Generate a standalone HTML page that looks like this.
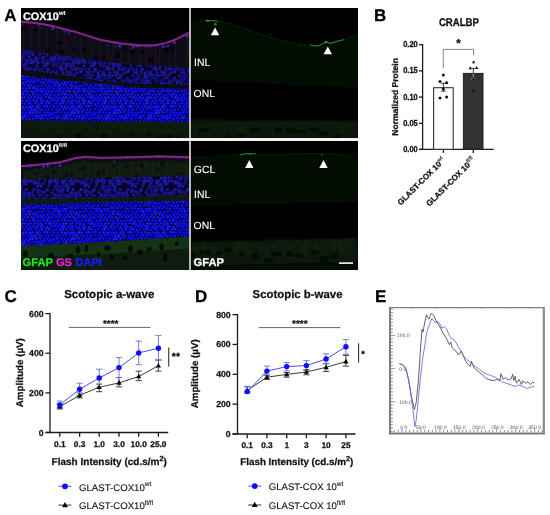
<!DOCTYPE html><html><head><meta charset="utf-8"><title>Figure</title><style>html,body{margin:0;padding:0;background:#fff;}svg text{font-family:"Liberation Sans",Arial,sans-serif;text-rendering:geometricPrecision;}body{width:550px;height:515px;position:relative;overflow:hidden;}</style></head><body><svg width="550" height="515" viewBox="0 0 550 515" style="position:absolute;left:0;top:0"><g filter="url(#glob)"><rect x="0" y="0" width="550" height="515" fill="#fff"/><defs><pattern id="onl" width="42" height="42" patternUnits="userSpaceOnUse"><rect width="42" height="42" fill="#00002c"/><circle cx="-0.35" cy="1.65" r="1.37" fill="#0c0cff"/><circle cx="41.65" cy="1.65" r="1.37" fill="#0c0cff"/><circle cx="3.06" cy="1.51" r="1.36" fill="#0808f8"/><circle cx="6.74" cy="1.55" r="1.37" fill="#0c0cff"/><circle cx="10.63" cy="1.58" r="1.37" fill="#0808f8"/><circle cx="13.72" cy="1.56" r="1.39" fill="#0808f8"/><circle cx="17.12" cy="1.31" r="1.59" fill="#1a1af0"/><circle cx="17.12" cy="43.31" r="1.59" fill="#1a1af0"/><circle cx="21.07" cy="1.19" r="1.38" fill="#0c0cff"/><circle cx="21.07" cy="43.19" r="1.38" fill="#0c0cff"/><circle cx="24.62" cy="1.5" r="1.51" fill="#1010e4"/><circle cx="24.62" cy="43.5" r="1.51" fill="#1010e4"/><circle cx="28.42" cy="1.36" r="1.42" fill="#1a1af0"/><circle cx="28.42" cy="43.36" r="1.42" fill="#1a1af0"/><circle cx="31.24" cy="1.57" r="1.51" fill="#1010e4"/><circle cx="34.79" cy="1.98" r="1.39" fill="#0808f8"/><circle cx="38.34" cy="1.93" r="1.48" fill="#0c0cff"/><circle cx="1.82" cy="4.88" r="1.44" fill="#1010e4"/><circle cx="5.33" cy="4.46" r="1.6" fill="#1010e4"/><circle cx="8.91" cy="4.06" r="1.56" fill="#0808f8"/><circle cx="12.14" cy="4.67" r="1.36" fill="#0808f8"/><circle cx="15.86" cy="4.49" r="1.42" fill="#1010e4"/><circle cx="19" cy="4.39" r="1.61" fill="#0c0cff"/><circle cx="22.65" cy="4.28" r="1.39" fill="#0808f8"/><circle cx="26.03" cy="4.42" r="1.46" fill="#0808f8"/><circle cx="29.4" cy="4.18" r="1.42" fill="#1a1af0"/><circle cx="33.58" cy="4.18" r="1.43" fill="#1a1af0"/><circle cx="36.62" cy="4.57" r="1.64" fill="#0c0cff"/><circle cx="40.62" cy="4.95" r="1.55" fill="#0808f8"/><circle cx="-1.38" cy="4.95" r="1.55" fill="#0808f8"/><circle cx="-0.11" cy="7.48" r="1.47" fill="#1a1af0"/><circle cx="41.89" cy="7.48" r="1.47" fill="#1a1af0"/><circle cx="3.21" cy="7.16" r="1.45" fill="#0c0cff"/><circle cx="7.07" cy="7.54" r="1.63" fill="#0c0cff"/><circle cx="10.21" cy="7.38" r="1.54" fill="#1010e4"/><circle cx="13.97" cy="7.12" r="1.5" fill="#0808f8"/><circle cx="17.31" cy="7.14" r="1.57" fill="#1010e4"/><circle cx="21.19" cy="7.52" r="1.41" fill="#1010e4"/><circle cx="24.54" cy="7.03" r="1.51" fill="#0c0cff"/><circle cx="27.76" cy="7.37" r="1.4" fill="#1a1af0"/><circle cx="31.78" cy="7.33" r="1.42" fill="#1a1af0"/><circle cx="35.32" cy="7.74" r="1.42" fill="#0808f8"/><circle cx="38.03" cy="7.03" r="1.43" fill="#1010e4"/><circle cx="1.86" cy="10.34" r="1.59" fill="#1010e4"/><circle cx="5.11" cy="10.22" r="1.42" fill="#1a1af0"/><circle cx="8.73" cy="10.99" r="1.53" fill="#0c0cff"/><circle cx="12.4" cy="10.8" r="1.38" fill="#0c0cff"/><circle cx="16.03" cy="10.75" r="1.49" fill="#1a1af0"/><circle cx="19.39" cy="10.09" r="1.63" fill="#0808f8"/><circle cx="22.99" cy="10.08" r="1.4" fill="#1a1af0"/><circle cx="26.34" cy="10.47" r="1.55" fill="#0808f8"/><circle cx="29.6" cy="10.55" r="1.39" fill="#0c0cff"/><circle cx="33.48" cy="10.1" r="1.57" fill="#1a1af0"/><circle cx="37.12" cy="10.83" r="1.41" fill="#1010e4"/><circle cx="40.25" cy="10.76" r="1.45" fill="#0808f8"/><circle cx="-0.44" cy="13.74" r="1.62" fill="#0808f8"/><circle cx="41.56" cy="13.74" r="1.62" fill="#0808f8"/><circle cx="3.88" cy="13.13" r="1.4" fill="#0c0cff"/><circle cx="7.28" cy="13.61" r="1.58" fill="#1a1af0"/><circle cx="10.47" cy="13.73" r="1.52" fill="#1010e4"/><circle cx="14.03" cy="13.48" r="1.58" fill="#0c0cff"/><circle cx="17.28" cy="13.77" r="1.5" fill="#0c0cff"/><circle cx="21.41" cy="13.44" r="1.53" fill="#1a1af0"/><circle cx="24.45" cy="13.53" r="1.49" fill="#1a1af0"/><circle cx="28.38" cy="13.94" r="1.43" fill="#1a1af0"/><circle cx="31.14" cy="13.12" r="1.48" fill="#0c0cff"/><circle cx="34.93" cy="13.21" r="1.44" fill="#0c0cff"/><circle cx="38.15" cy="13.72" r="1.55" fill="#1a1af0"/><circle cx="1.39" cy="16.47" r="1.57" fill="#0c0cff"/><circle cx="43.39" cy="16.47" r="1.57" fill="#0c0cff"/><circle cx="5.24" cy="16.99" r="1.6" fill="#1a1af0"/><circle cx="9.24" cy="16.4" r="1.48" fill="#1010e4"/><circle cx="12.47" cy="16.02" r="1.52" fill="#0808f8"/><circle cx="15.63" cy="16.52" r="1.44" fill="#0c0cff"/><circle cx="19.67" cy="16.23" r="1.61" fill="#0c0cff"/><circle cx="22.29" cy="16.78" r="1.43" fill="#1a1af0"/><circle cx="26.6" cy="16.68" r="1.63" fill="#0808f8"/><circle cx="30.17" cy="16.57" r="1.56" fill="#0c0cff"/><circle cx="33.55" cy="16.18" r="1.62" fill="#1010e4"/><circle cx="36.88" cy="16.8" r="1.38" fill="#1a1af0"/><circle cx="40.61" cy="16.45" r="1.45" fill="#0808f8"/><circle cx="-1.39" cy="16.45" r="1.45" fill="#0808f8"/><circle cx="-0.23" cy="19.13" r="1.51" fill="#1a1af0"/><circle cx="41.77" cy="19.13" r="1.51" fill="#1a1af0"/><circle cx="3.97" cy="19.26" r="1.4" fill="#1010e4"/><circle cx="7.03" cy="19.21" r="1.48" fill="#1a1af0"/><circle cx="10.8" cy="19.99" r="1.36" fill="#0c0cff"/><circle cx="14.05" cy="19.19" r="1.49" fill="#0808f8"/><circle cx="17.82" cy="19.43" r="1.5" fill="#0808f8"/><circle cx="20.81" cy="19.22" r="1.42" fill="#1a1af0"/><circle cx="24.71" cy="19.64" r="1.47" fill="#1010e4"/><circle cx="28.34" cy="19.01" r="1.54" fill="#1010e4"/><circle cx="31.06" cy="19.67" r="1.46" fill="#1010e4"/><circle cx="35.19" cy="19.05" r="1.41" fill="#1010e4"/><circle cx="38.26" cy="19.96" r="1.64" fill="#1010e4"/><circle cx="2.22" cy="22.31" r="1.46" fill="#0c0cff"/><circle cx="4.83" cy="22.28" r="1.55" fill="#1a1af0"/><circle cx="8.25" cy="22.26" r="1.38" fill="#0808f8"/><circle cx="12.14" cy="22.3" r="1.54" fill="#0c0cff"/><circle cx="15.78" cy="22.75" r="1.55" fill="#0808f8"/><circle cx="19.47" cy="22.49" r="1.44" fill="#1a1af0"/><circle cx="23.09" cy="22.89" r="1.54" fill="#1a1af0"/><circle cx="26.5" cy="22.57" r="1.59" fill="#0c0cff"/><circle cx="29.83" cy="22.89" r="1.55" fill="#1a1af0"/><circle cx="32.79" cy="22.64" r="1.64" fill="#0808f8"/><circle cx="36.81" cy="22.63" r="1.54" fill="#1a1af0"/><circle cx="39.75" cy="22.8" r="1.57" fill="#0c0cff"/><circle cx="-0.43" cy="25.74" r="1.43" fill="#0c0cff"/><circle cx="41.57" cy="25.74" r="1.43" fill="#0c0cff"/><circle cx="3.23" cy="25.76" r="1.42" fill="#0808f8"/><circle cx="6.88" cy="25.48" r="1.56" fill="#0c0cff"/><circle cx="10.64" cy="25.08" r="1.39" fill="#1010e4"/><circle cx="14.19" cy="25.62" r="1.39" fill="#0808f8"/><circle cx="17.27" cy="25.67" r="1.56" fill="#0808f8"/><circle cx="21.02" cy="25.46" r="1.49" fill="#0c0cff"/><circle cx="24.55" cy="25.31" r="1.38" fill="#0808f8"/><circle cx="27.96" cy="25.82" r="1.64" fill="#0808f8"/><circle cx="31.39" cy="25.92" r="1.63" fill="#0c0cff"/><circle cx="34.64" cy="25.52" r="1.64" fill="#1a1af0"/><circle cx="38.63" cy="25.28" r="1.38" fill="#1010e4"/><circle cx="2.15" cy="28.49" r="1.36" fill="#0c0cff"/><circle cx="5.43" cy="28.41" r="1.57" fill="#0808f8"/><circle cx="8.57" cy="28.84" r="1.35" fill="#1010e4"/><circle cx="11.87" cy="28.93" r="1.56" fill="#1010e4"/><circle cx="15.31" cy="28.39" r="1.61" fill="#0c0cff"/><circle cx="19.18" cy="28.28" r="1.36" fill="#0c0cff"/><circle cx="22.91" cy="28.63" r="1.39" fill="#1010e4"/><circle cx="26.07" cy="28.77" r="1.59" fill="#0808f8"/><circle cx="30.06" cy="28.63" r="1.62" fill="#1a1af0"/><circle cx="32.8" cy="28.73" r="1.49" fill="#1a1af0"/><circle cx="36.54" cy="28.05" r="1.63" fill="#1a1af0"/><circle cx="40.16" cy="28.28" r="1.43" fill="#1010e4"/><circle cx="-0.26" cy="31.48" r="1.55" fill="#0c0cff"/><circle cx="41.74" cy="31.48" r="1.55" fill="#0c0cff"/><circle cx="3.16" cy="31.21" r="1.62" fill="#0808f8"/><circle cx="6.95" cy="31.33" r="1.58" fill="#0808f8"/><circle cx="10.19" cy="31.09" r="1.45" fill="#0c0cff"/><circle cx="13.87" cy="31.81" r="1.41" fill="#0c0cff"/><circle cx="17.41" cy="31.41" r="1.51" fill="#0808f8"/><circle cx="21.25" cy="31.5" r="1.52" fill="#1010e4"/><circle cx="24.5" cy="31.63" r="1.61" fill="#1a1af0"/><circle cx="28.4" cy="31.38" r="1.54" fill="#0808f8"/><circle cx="31.85" cy="31.87" r="1.36" fill="#0c0cff"/><circle cx="35.26" cy="31.8" r="1.64" fill="#0808f8"/><circle cx="38.39" cy="31.93" r="1.6" fill="#0808f8"/><circle cx="1.5" cy="34.11" r="1.4" fill="#0c0cff"/><circle cx="5.47" cy="34.65" r="1.58" fill="#0808f8"/><circle cx="9.03" cy="34" r="1.39" fill="#0c0cff"/><circle cx="12.05" cy="34.13" r="1.43" fill="#0808f8"/><circle cx="15.36" cy="34.07" r="1.51" fill="#1a1af0"/><circle cx="18.97" cy="34.6" r="1.35" fill="#1010e4"/><circle cx="22.53" cy="34.32" r="1.6" fill="#1a1af0"/><circle cx="25.98" cy="34.25" r="1.64" fill="#1010e4"/><circle cx="29.44" cy="34.88" r="1.54" fill="#0c0cff"/><circle cx="33.42" cy="34.93" r="1.42" fill="#0c0cff"/><circle cx="36.97" cy="34.36" r="1.47" fill="#0c0cff"/><circle cx="40.49" cy="34.5" r="1.41" fill="#1a1af0"/><circle cx="0.32" cy="37.23" r="1.42" fill="#1010e4"/><circle cx="42.32" cy="37.23" r="1.42" fill="#1010e4"/><circle cx="3.62" cy="37.61" r="1.62" fill="#0808f8"/><circle cx="7.17" cy="37.95" r="1.39" fill="#0808f8"/><circle cx="10.02" cy="37.6" r="1.47" fill="#0c0cff"/><circle cx="13.95" cy="37.71" r="1.44" fill="#0c0cff"/><circle cx="17.93" cy="37.33" r="1.41" fill="#0808f8"/><circle cx="21.16" cy="37.38" r="1.46" fill="#1010e4"/><circle cx="24.11" cy="37.08" r="1.37" fill="#0808f8"/><circle cx="27.62" cy="37.96" r="1.41" fill="#1010e4"/><circle cx="31.31" cy="37.8" r="1.38" fill="#0808f8"/><circle cx="35.04" cy="37.45" r="1.45" fill="#0808f8"/><circle cx="38.41" cy="37.81" r="1.58" fill="#0c0cff"/><circle cx="1.71" cy="40.8" r="1.37" fill="#1a1af0"/><circle cx="1.71" cy="-1.2" r="1.37" fill="#1a1af0"/><circle cx="5.65" cy="40.34" r="1.43" fill="#0c0cff"/><circle cx="8.97" cy="40.32" r="1.43" fill="#0c0cff"/><circle cx="12.35" cy="40.81" r="1.63" fill="#0c0cff"/><circle cx="12.35" cy="-1.19" r="1.63" fill="#0c0cff"/><circle cx="15.48" cy="40.48" r="1.64" fill="#0808f8"/><circle cx="15.48" cy="-1.52" r="1.64" fill="#0808f8"/><circle cx="19.66" cy="40.81" r="1.39" fill="#0808f8"/><circle cx="19.66" cy="-1.19" r="1.39" fill="#0808f8"/><circle cx="23.05" cy="40.74" r="1.6" fill="#1a1af0"/><circle cx="23.05" cy="-1.26" r="1.6" fill="#1a1af0"/><circle cx="26.08" cy="40.32" r="1.46" fill="#0c0cff"/><circle cx="29.64" cy="40.16" r="1.47" fill="#0c0cff"/><circle cx="33.29" cy="40.16" r="1.48" fill="#0c0cff"/><circle cx="36.51" cy="40.08" r="1.38" fill="#0808f8"/><circle cx="40.72" cy="40.17" r="1.39" fill="#0808f8"/><circle cx="-1.28" cy="40.17" r="1.39" fill="#0808f8"/></pattern><pattern id="inl" width="47" height="47" patternUnits="userSpaceOnUse"><rect width="47" height="47" fill="#080628"/><circle cx="0.24" cy="1.82" r="1.59" fill="#1a1ab8"/><circle cx="47.24" cy="1.82" r="1.59" fill="#1a1ab8"/><circle cx="6.41" cy="1.14" r="1.35" fill="#101094"/><circle cx="6.41" cy="48.14" r="1.35" fill="#101094"/><circle cx="9.72" cy="1.11" r="1.31" fill="#1616a0"/><circle cx="9.72" cy="48.11" r="1.31" fill="#1616a0"/><circle cx="13.28" cy="2.16" r="1.45" fill="#1616a0"/><circle cx="16.23" cy="1.42" r="1.26" fill="#1a1ab8"/><circle cx="20.59" cy="1.95" r="1.62" fill="#1a1ab8"/><circle cx="26.23" cy="1.61" r="1.58" fill="#1616a0"/><circle cx="34.08" cy="1.4" r="1.35" fill="#1a1ab8"/><circle cx="37.06" cy="1.64" r="1.34" fill="#101094"/><circle cx="39.65" cy="2.17" r="1.27" fill="#1616a0"/><circle cx="4.86" cy="4.58" r="1.28" fill="#1a1ab8"/><circle cx="11.14" cy="3.85" r="1.41" fill="#1616a0"/><circle cx="14.53" cy="3.94" r="1.53" fill="#201898"/><circle cx="21.71" cy="3.78" r="1.55" fill="#101094"/><circle cx="24.5" cy="4.78" r="1.57" fill="#1616a0"/><circle cx="28.4" cy="5.03" r="1.42" fill="#1616a0"/><circle cx="32.34" cy="4.27" r="1.6" fill="#201898"/><circle cx="37.98" cy="3.91" r="1.57" fill="#201898"/><circle cx="42.14" cy="4.23" r="1.45" fill="#1616a0"/><circle cx="44.85" cy="3.95" r="1.28" fill="#201898"/><circle cx="0.43" cy="8" r="1.33" fill="#1616a0"/><circle cx="47.43" cy="8" r="1.33" fill="#1616a0"/><circle cx="7.29" cy="7.08" r="1.49" fill="#201898"/><circle cx="10.37" cy="7.61" r="1.61" fill="#1616a0"/><circle cx="13.59" cy="6.92" r="1.44" fill="#1616a0"/><circle cx="17.4" cy="6.86" r="1.39" fill="#1616a0"/><circle cx="20.46" cy="7.9" r="1.27" fill="#1a1ab8"/><circle cx="23.25" cy="7.19" r="1.43" fill="#101094"/><circle cx="26.59" cy="6.99" r="1.41" fill="#101094"/><circle cx="30.13" cy="6.68" r="1.5" fill="#201898"/><circle cx="33.5" cy="7.51" r="1.58" fill="#1616a0"/><circle cx="39.68" cy="7.15" r="1.4" fill="#201898"/><circle cx="43.86" cy="6.7" r="1.3" fill="#101094"/><circle cx="4.41" cy="10.29" r="1.4" fill="#1616a0"/><circle cx="7.79" cy="10.44" r="1.53" fill="#1a1ab8"/><circle cx="12.42" cy="10.27" r="1.63" fill="#1616a0"/><circle cx="15.42" cy="9.89" r="1.58" fill="#101094"/><circle cx="19.02" cy="9.97" r="1.58" fill="#1616a0"/><circle cx="22.47" cy="10.25" r="1.49" fill="#1616a0"/><circle cx="24.53" cy="9.84" r="1.31" fill="#101094"/><circle cx="29.09" cy="9.82" r="1.56" fill="#1a1ab8"/><circle cx="35.75" cy="10.93" r="1.43" fill="#1a1ab8"/><circle cx="38.66" cy="10.78" r="1.55" fill="#101094"/><circle cx="42.65" cy="10.39" r="1.39" fill="#1a1ab8"/><circle cx="44.87" cy="10.62" r="1.27" fill="#101094"/><circle cx="0.65" cy="13.74" r="1.62" fill="#101094"/><circle cx="47.65" cy="13.74" r="1.62" fill="#101094"/><circle cx="3.7" cy="12.83" r="1.37" fill="#201898"/><circle cx="6.52" cy="12.59" r="1.45" fill="#1a1ab8"/><circle cx="9.38" cy="13.02" r="1.29" fill="#101094"/><circle cx="13.31" cy="12.94" r="1.3" fill="#101094"/><circle cx="16.75" cy="12.71" r="1.62" fill="#1616a0"/><circle cx="20.07" cy="12.61" r="1.31" fill="#101094"/><circle cx="23.17" cy="12.53" r="1.51" fill="#101094"/><circle cx="26.97" cy="13.36" r="1.46" fill="#201898"/><circle cx="30.78" cy="12.58" r="1.46" fill="#201898"/><circle cx="33.09" cy="13.8" r="1.29" fill="#1616a0"/><circle cx="36.51" cy="13.37" r="1.45" fill="#201898"/><circle cx="43.38" cy="12.94" r="1.27" fill="#201898"/><circle cx="0.99" cy="16.64" r="1.55" fill="#201898"/><circle cx="47.99" cy="16.64" r="1.55" fill="#201898"/><circle cx="5.25" cy="15.7" r="1.65" fill="#101094"/><circle cx="7.75" cy="15.93" r="1.55" fill="#101094"/><circle cx="11.42" cy="16.23" r="1.42" fill="#101094"/><circle cx="15.71" cy="16.71" r="1.28" fill="#1a1ab8"/><circle cx="19.03" cy="16.63" r="1.33" fill="#1616a0"/><circle cx="21.58" cy="16.69" r="1.38" fill="#1616a0"/><circle cx="25.67" cy="16.75" r="1.64" fill="#201898"/><circle cx="28.58" cy="15.47" r="1.26" fill="#1616a0"/><circle cx="31.62" cy="15.75" r="1.5" fill="#1a1ab8"/><circle cx="34.79" cy="15.5" r="1.29" fill="#1616a0"/><circle cx="38.11" cy="15.5" r="1.27" fill="#1a1ab8"/><circle cx="42.3" cy="15.55" r="1.49" fill="#101094"/><circle cx="45.96" cy="16.2" r="1.52" fill="#201898"/><circle cx="-1.04" cy="16.2" r="1.52" fill="#201898"/><circle cx="-0.41" cy="18.55" r="1.26" fill="#1a1ab8"/><circle cx="46.59" cy="18.55" r="1.26" fill="#1a1ab8"/><circle cx="6.42" cy="18.53" r="1.29" fill="#1616a0"/><circle cx="9.84" cy="18.76" r="1.39" fill="#101094"/><circle cx="13.79" cy="19.67" r="1.56" fill="#201898"/><circle cx="19.49" cy="18.97" r="1.42" fill="#1a1ab8"/><circle cx="23.79" cy="19.15" r="1.34" fill="#1a1ab8"/><circle cx="26.56" cy="19" r="1.46" fill="#101094"/><circle cx="36.92" cy="19.08" r="1.57" fill="#1616a0"/><circle cx="44.28" cy="19.11" r="1.48" fill="#1616a0"/><circle cx="1.28" cy="22.31" r="1.45" fill="#1a1ab8"/><circle cx="48.28" cy="22.31" r="1.45" fill="#1a1ab8"/><circle cx="12.44" cy="22.12" r="1.29" fill="#101094"/><circle cx="14.97" cy="21.88" r="1.61" fill="#1a1ab8"/><circle cx="18.67" cy="21.85" r="1.37" fill="#201898"/><circle cx="25.01" cy="22.57" r="1.34" fill="#201898"/><circle cx="28.67" cy="22.3" r="1.49" fill="#1a1ab8"/><circle cx="31.65" cy="21.55" r="1.59" fill="#101094"/><circle cx="35.16" cy="22.41" r="1.48" fill="#1616a0"/><circle cx="38.81" cy="22.31" r="1.45" fill="#101094"/><circle cx="42.25" cy="22.51" r="1.31" fill="#1616a0"/><circle cx="0.14" cy="24.76" r="1.34" fill="#1616a0"/><circle cx="47.14" cy="24.76" r="1.34" fill="#1616a0"/><circle cx="3.99" cy="25.66" r="1.32" fill="#1a1ab8"/><circle cx="6.23" cy="24.48" r="1.37" fill="#101094"/><circle cx="9.65" cy="25.16" r="1.29" fill="#1616a0"/><circle cx="16.1" cy="25.46" r="1.42" fill="#1616a0"/><circle cx="20.33" cy="24.92" r="1.31" fill="#201898"/><circle cx="23.14" cy="25.46" r="1.53" fill="#201898"/><circle cx="30.43" cy="25.5" r="1.51" fill="#1616a0"/><circle cx="33.77" cy="24.9" r="1.38" fill="#1a1ab8"/><circle cx="40.15" cy="25.27" r="1.31" fill="#201898"/><circle cx="42.97" cy="25.47" r="1.46" fill="#1616a0"/><circle cx="4.35" cy="28.37" r="1.61" fill="#1a1ab8"/><circle cx="8.45" cy="27.43" r="1.56" fill="#1616a0"/><circle cx="11.19" cy="28.01" r="1.47" fill="#201898"/><circle cx="15.3" cy="28.37" r="1.46" fill="#201898"/><circle cx="18.4" cy="28.59" r="1.32" fill="#1a1ab8"/><circle cx="21.98" cy="28.1" r="1.35" fill="#201898"/><circle cx="24.5" cy="27.79" r="1.42" fill="#101094"/><circle cx="27.99" cy="27.63" r="1.41" fill="#1616a0"/><circle cx="38.14" cy="28.51" r="1.28" fill="#1616a0"/><circle cx="42.05" cy="27.52" r="1.64" fill="#101094"/><circle cx="45.78" cy="28.32" r="1.42" fill="#101094"/><circle cx="-1.22" cy="28.32" r="1.42" fill="#101094"/><circle cx="3.75" cy="30.8" r="1.56" fill="#1616a0"/><circle cx="6.54" cy="30.5" r="1.42" fill="#1616a0"/><circle cx="10.5" cy="31.26" r="1.39" fill="#101094"/><circle cx="13.41" cy="31.02" r="1.28" fill="#101094"/><circle cx="16.51" cy="30.68" r="1.28" fill="#101094"/><circle cx="23.96" cy="31.03" r="1.26" fill="#1a1ab8"/><circle cx="26.26" cy="30.55" r="1.49" fill="#1616a0"/><circle cx="33.5" cy="31.24" r="1.33" fill="#201898"/><circle cx="40.83" cy="31" r="1.56" fill="#101094"/><circle cx="43.91" cy="30.89" r="1.55" fill="#201898"/><circle cx="1.14" cy="33.25" r="1.42" fill="#1616a0"/><circle cx="48.14" cy="33.25" r="1.42" fill="#1616a0"/><circle cx="5.12" cy="33.76" r="1.61" fill="#201898"/><circle cx="7.92" cy="33.92" r="1.54" fill="#1616a0"/><circle cx="15.19" cy="34.01" r="1.59" fill="#101094"/><circle cx="19.16" cy="34.03" r="1.32" fill="#101094"/><circle cx="21.16" cy="33.93" r="1.52" fill="#101094"/><circle cx="28.51" cy="34.14" r="1.31" fill="#1616a0"/><circle cx="32.07" cy="33.56" r="1.59" fill="#101094"/><circle cx="35.64" cy="33.86" r="1.61" fill="#101094"/><circle cx="38.5" cy="33.86" r="1.58" fill="#101094"/><circle cx="41.96" cy="33.55" r="1.64" fill="#101094"/><circle cx="0.41" cy="36.48" r="1.38" fill="#101094"/><circle cx="47.41" cy="36.48" r="1.38" fill="#101094"/><circle cx="4.02" cy="36.14" r="1.65" fill="#201898"/><circle cx="7.25" cy="36.78" r="1.27" fill="#101094"/><circle cx="9.44" cy="37.17" r="1.44" fill="#1a1ab8"/><circle cx="20.31" cy="36.9" r="1.53" fill="#1a1ab8"/><circle cx="23.73" cy="36.66" r="1.56" fill="#1a1ab8"/><circle cx="27.37" cy="36.61" r="1.29" fill="#1a1ab8"/><circle cx="30.67" cy="37.12" r="1.47" fill="#101094"/><circle cx="36.28" cy="36.05" r="1.48" fill="#1a1ab8"/><circle cx="40.32" cy="37.17" r="1.56" fill="#201898"/><circle cx="44.23" cy="36.64" r="1.26" fill="#201898"/><circle cx="2.37" cy="39.88" r="1.31" fill="#201898"/><circle cx="4.45" cy="39.62" r="1.61" fill="#1a1ab8"/><circle cx="7.71" cy="39.89" r="1.64" fill="#1a1ab8"/><circle cx="11.22" cy="39.62" r="1.36" fill="#1616a0"/><circle cx="15.45" cy="40.25" r="1.4" fill="#1616a0"/><circle cx="17.88" cy="39.84" r="1.53" fill="#201898"/><circle cx="22.37" cy="40.24" r="1.27" fill="#1a1ab8"/><circle cx="24.5" cy="39.87" r="1.58" fill="#1a1ab8"/><circle cx="28.27" cy="39.8" r="1.63" fill="#201898"/><circle cx="31.64" cy="40.28" r="1.54" fill="#201898"/><circle cx="34.75" cy="40.07" r="1.4" fill="#1616a0"/><circle cx="38.49" cy="39.5" r="1.56" fill="#101094"/><circle cx="45.03" cy="39.04" r="1.64" fill="#101094"/><circle cx="2.68" cy="42.11" r="1.58" fill="#201898"/><circle cx="9.91" cy="42.42" r="1.56" fill="#1616a0"/><circle cx="16.09" cy="42.26" r="1.42" fill="#1a1ab8"/><circle cx="19.64" cy="43.14" r="1.65" fill="#1616a0"/><circle cx="23.99" cy="43.02" r="1.52" fill="#201898"/><circle cx="26.28" cy="42.67" r="1.57" fill="#1616a0"/><circle cx="34.25" cy="42.33" r="1.27" fill="#201898"/><circle cx="36.52" cy="42.25" r="1.55" fill="#201898"/><circle cx="39.71" cy="43.02" r="1.56" fill="#1616a0"/><circle cx="43.67" cy="42.26" r="1.58" fill="#101094"/><circle cx="1.8" cy="45.1" r="1.33" fill="#1616a0"/><circle cx="8.5" cy="45.33" r="1.56" fill="#1616a0"/><circle cx="12.34" cy="45.52" r="1.6" fill="#101094"/><circle cx="12.34" cy="-1.48" r="1.6" fill="#101094"/><circle cx="15.51" cy="45.05" r="1.49" fill="#101094"/><circle cx="18.61" cy="44.96" r="1.33" fill="#201898"/><circle cx="21.42" cy="46.13" r="1.36" fill="#1a1ab8"/><circle cx="21.42" cy="-0.87" r="1.36" fill="#1a1ab8"/><circle cx="37.96" cy="45.11" r="1.32" fill="#1a1ab8"/><circle cx="41.31" cy="45.35" r="1.53" fill="#201898"/></pattern><pattern id="gcl" width="30" height="30" patternUnits="userSpaceOnUse"><rect width="30" height="30" fill="#0c0810"/><circle cx="4.48" cy="1.67" r="1.27" fill="#2a2aa0"/><circle cx="8.7" cy="2.16" r="1.77" fill="#1e1e78"/><circle cx="17.84" cy="1.62" r="1.34" fill="#1e1e78"/><circle cx="20.51" cy="1.39" r="1.41" fill="#1e1e78"/><circle cx="20.51" cy="31.39" r="1.41" fill="#1e1e78"/><circle cx="7" cy="6.04" r="1.59" fill="#3a2a90"/><circle cx="10" cy="6.13" r="1.76" fill="#1e1e78"/><circle cx="24.24" cy="12.28" r="1.57" fill="#3a2a90"/><circle cx="-0.11" cy="16.07" r="1.76" fill="#2a2aa0"/><circle cx="29.89" cy="16.07" r="1.76" fill="#2a2aa0"/><circle cx="13.5" cy="16.83" r="1.58" fill="#2a2aa0"/><circle cx="17.61" cy="16.24" r="1.47" fill="#2a2aa0"/><circle cx="25.55" cy="16.37" r="1.22" fill="#1e1e78"/><circle cx="5.76" cy="20.61" r="1.39" fill="#3a2a90"/><circle cx="11.67" cy="19.74" r="1.74" fill="#1e1e78"/><circle cx="28.37" cy="21.57" r="1.46" fill="#3a2a90"/><circle cx="8.15" cy="25.17" r="1.23" fill="#1e1e78"/><circle cx="17.42" cy="24.26" r="1.5" fill="#1e1e78"/><circle cx="20.43" cy="25.04" r="1.52" fill="#2a2aa0"/><circle cx="1.96" cy="27.68" r="1.31" fill="#2a2aa0"/><circle cx="10.07" cy="28.33" r="1.7" fill="#1e1e78"/><circle cx="10.07" cy="-1.67" r="1.7" fill="#1e1e78"/><circle cx="22.85" cy="28.46" r="1.58" fill="#2a2aa0"/><circle cx="22.85" cy="-1.54" r="1.58" fill="#2a2aa0"/></pattern><filter id="soft" x="-2%" y="-2%" width="104%" height="104%"><feGaussianBlur stdDeviation="0.45"/></filter><filter id="soft2" x="-2%" y="-2%" width="104%" height="104%"><feGaussianBlur stdDeviation="0.8"/></filter><filter id="glob" x="0" y="0" width="100%" height="100%" filterUnits="userSpaceOnUse"><feGaussianBlur stdDeviation="0.3"/></filter></defs><clipPath id="c1"><rect x="21" y="8" width="168" height="130"/></clipPath><g clip-path="url(#c1)"><rect x="21" y="8" width="168" height="130" fill="#000"/><g filter="url(#soft)"><polygon points="21,21 35,22 50,24.7 75,31 100,39 120,42.5 140,44.5 155,44.5 165,42.5 175,39 189,32 189,140 21,140" fill="#0f0812"/><ellipse cx="22.62" cy="28.61" rx="2.97" ry="2.11" fill="#040304" opacity="0.45"/><ellipse cx="36.77" cy="29.62" rx="3.12" ry="2" fill="#040304" opacity="0.45"/><ellipse cx="47.74" cy="50.18" rx="2.49" ry="1.52" fill="#040304" opacity="0.45"/><ellipse cx="58.28" cy="43.26" rx="3.24" ry="1.9" fill="#040304" opacity="0.45"/><ellipse cx="62.49" cy="51.75" rx="2.23" ry="1.75" fill="#040304" opacity="0.45"/><ellipse cx="73.97" cy="48.85" rx="1.51" ry="2.28" fill="#040304" opacity="0.45"/><ellipse cx="84.57" cy="49.66" rx="1.74" ry="2.57" fill="#040304" opacity="0.45"/><ellipse cx="97.53" cy="58.42" rx="2.14" ry="2.57" fill="#040304" opacity="0.45"/><ellipse cx="104.05" cy="57.5" rx="1.62" ry="2.81" fill="#040304" opacity="0.45"/><ellipse cx="118.63" cy="55.49" rx="2.53" ry="2.3" fill="#040304" opacity="0.45"/><ellipse cx="125.3" cy="49.33" rx="3.43" ry="1.84" fill="#040304" opacity="0.45"/><ellipse cx="132.46" cy="51.23" rx="2" ry="2.73" fill="#040304" opacity="0.45"/><ellipse cx="141.24" cy="51.91" rx="2.9" ry="1.79" fill="#040304" opacity="0.45"/><ellipse cx="151.14" cy="59.6" rx="2.65" ry="2.28" fill="#040304" opacity="0.45"/><ellipse cx="166.62" cy="49.86" rx="3.24" ry="2.58" fill="#040304" opacity="0.45"/><ellipse cx="171.36" cy="48.81" rx="2.49" ry="2.25" fill="#040304" opacity="0.45"/><polygon points="21,21 35,22 50,24.7 75,31 100,39 120,42.5 140,44.5 155,44.5 165,42.5 175,39 189,32 189,37.5 175,44.5 165,48 155,50 140,50 120,48 100,44.5 75,36.5 50,30.2 35,27.5 21,26.5" fill="url(#gcl)"/><line x1="23.68" y1="23.19" x2="23.3" y2="64.67" stroke="#5a1a6a" stroke-width="0.6" opacity="0.45"/><line x1="30.82" y1="23.7" x2="32.27" y2="69.47" stroke="#5a1a6a" stroke-width="0.6" opacity="0.45"/><line x1="38.88" y1="24.7" x2="39.87" y2="70.5" stroke="#5a1a6a" stroke-width="0.6" opacity="0.45"/><line x1="46.99" y1="26.16" x2="48.74" y2="73.71" stroke="#5a1a6a" stroke-width="0.6" opacity="0.45"/><line x1="56.33" y1="28.3" x2="57.69" y2="71.83" stroke="#5a1a6a" stroke-width="0.6" opacity="0.45"/><line x1="65.15" y1="30.52" x2="66.92" y2="72.94" stroke="#5a1a6a" stroke-width="0.6" opacity="0.45"/><line x1="74.66" y1="32.91" x2="73.62" y2="73.91" stroke="#5a1a6a" stroke-width="0.6" opacity="0.45"/><line x1="80.01" y1="34.6" x2="81.94" y2="75.49" stroke="#5a1a6a" stroke-width="0.6" opacity="0.45"/><line x1="90.83" y1="38.06" x2="92.09" y2="80.93" stroke="#5a1a6a" stroke-width="0.6" opacity="0.45"/><line x1="99.09" y1="40.71" x2="99.16" y2="75.29" stroke="#5a1a6a" stroke-width="0.6" opacity="0.45"/><line x1="107.75" y1="42.36" x2="106.74" y2="83.06" stroke="#5a1a6a" stroke-width="0.6" opacity="0.45"/><line x1="112.53" y1="43.19" x2="111.99" y2="81" stroke="#5a1a6a" stroke-width="0.6" opacity="0.45"/><line x1="121.18" y1="44.62" x2="120.92" y2="77.14" stroke="#5a1a6a" stroke-width="0.6" opacity="0.45"/><line x1="129.03" y1="45.4" x2="127.59" y2="77.34" stroke="#5a1a6a" stroke-width="0.6" opacity="0.45"/><line x1="139.82" y1="46.48" x2="141.57" y2="84.2" stroke="#5a1a6a" stroke-width="0.6" opacity="0.45"/><line x1="145.8" y1="46.5" x2="147.34" y2="84.59" stroke="#5a1a6a" stroke-width="0.6" opacity="0.45"/><line x1="155.31" y1="46.44" x2="155.87" y2="78.59" stroke="#5a1a6a" stroke-width="0.6" opacity="0.45"/><line x1="159.59" y1="45.58" x2="158.69" y2="83.83" stroke="#5a1a6a" stroke-width="0.6" opacity="0.45"/><line x1="169.25" y1="43.01" x2="169.74" y2="85.99" stroke="#5a1a6a" stroke-width="0.6" opacity="0.45"/><line x1="175.5" y1="40.75" x2="175.24" y2="82.89" stroke="#5a1a6a" stroke-width="0.6" opacity="0.45"/><line x1="187.71" y1="34.65" x2="186.93" y2="81.27" stroke="#5a1a6a" stroke-width="0.6" opacity="0.45"/><polyline points="21,21.8 35,22.8 50,25.5 75,31.8 100,39.8 120,43.3 140,45.3 155,45.3 165,43.3 175,39.8 189,32.8" fill="none" stroke="#8a2898" stroke-width="2.2" opacity="0.9"/><polygon points="21,49.6 60,55 100,61 140,65 189,68 189,85 140,84 100,81 60,75 21,69.3" fill="url(#inl)"/><polygon points="21,69.3 60,75 100,81 140,84 189,85 189,89 140,88 100,83.7 60,80 21,75.3" fill="#0a0e0a"/><polygon points="21,75.3 60,80 100,83.7 140,88 189,89 189,122 100,121.8 21,120.5" fill="url(#onl)"/><polygon points="21,120.5 100,121.8 189,122 189,140 21,140" fill="#0d1d0d"/><polygon points="21,132.5 100,133.8 189,134 189,140 21,140" fill="#000" opacity="0.35"/><ellipse cx="24.89" cy="127.37" rx="2.69" ry="4.39" fill="#030803" opacity="0.5"/><ellipse cx="33.08" cy="129.73" rx="2.43" ry="3.33" fill="#030803" opacity="0.5"/><ellipse cx="39.89" cy="127.67" rx="1.76" ry="2.73" fill="#030803" opacity="0.5"/><ellipse cx="50.44" cy="130.31" rx="1.99" ry="2.22" fill="#030803" opacity="0.5"/><ellipse cx="60.28" cy="138.74" rx="2.72" ry="3.43" fill="#030803" opacity="0.5"/><ellipse cx="69.9" cy="129.32" rx="2.92" ry="3.15" fill="#030803" opacity="0.5"/><ellipse cx="78.29" cy="135.63" rx="2.44" ry="2.78" fill="#030803" opacity="0.5"/><ellipse cx="85.45" cy="129.88" rx="2.52" ry="2.96" fill="#030803" opacity="0.5"/><ellipse cx="96.51" cy="126.92" rx="2.21" ry="4.15" fill="#030803" opacity="0.5"/><ellipse cx="103.43" cy="135.16" rx="2.48" ry="2.71" fill="#030803" opacity="0.5"/><ellipse cx="116.93" cy="131.27" rx="3.04" ry="2.4" fill="#030803" opacity="0.5"/><ellipse cx="120.4" cy="139.91" rx="2.38" ry="2.16" fill="#030803" opacity="0.5"/><ellipse cx="131.33" cy="133.47" rx="2.97" ry="2.27" fill="#030803" opacity="0.5"/><ellipse cx="139.35" cy="141.28" rx="2.98" ry="2.39" fill="#030803" opacity="0.5"/><ellipse cx="149.02" cy="132.2" rx="2.85" ry="3.54" fill="#030803" opacity="0.5"/><ellipse cx="161.1" cy="139.26" rx="2.54" ry="3.85" fill="#030803" opacity="0.5"/><ellipse cx="169.46" cy="138.35" rx="2.45" ry="3.96" fill="#030803" opacity="0.5"/><ellipse cx="178.25" cy="140.7" rx="1.75" ry="4.18" fill="#030803" opacity="0.5"/></g></g><clipPath id="c2"><rect x="191" y="8" width="167" height="130"/></clipPath><g clip-path="url(#c2)"><rect x="191" y="8" width="167" height="130" fill="#000"/><g filter="url(#soft2)"><polygon points="191,21 205,19.5 222,20.5 240,26 260,33 280,39.5 300,43.5 315,45.2 325,43 340,39.5 358,33.5 358,140 191,140" fill="#040c04"/><polygon points="191,55 358,68 358,79 191,72" fill="#030803"/><polygon points="191,72 358,79 358,88 191,79" fill="#061006"/><polygon points="191,79 358,88 358,121 191,120" fill="#020602"/><polygon points="191,120 358,121 358,140 191,140" fill="#081608"/><line x1="191.01" y1="123.83" x2="191" y2="135.27" stroke="#0f2e0f" stroke-width="1.15" opacity="0.2"/><line x1="195.7" y1="121.42" x2="194.14" y2="133.26" stroke="#184818" stroke-width="1.69" opacity="0.2"/><line x1="197.58" y1="121.8" x2="197.68" y2="130.68" stroke="#0f2e0f" stroke-width="1.38" opacity="0.2"/><line x1="200.64" y1="123.99" x2="200.64" y2="138.34" stroke="#184818" stroke-width="1.3" opacity="0.2"/><line x1="204.07" y1="124.09" x2="203.58" y2="133.89" stroke="#133a13" stroke-width="1.09" opacity="0.2"/><line x1="207.84" y1="121.72" x2="209.19" y2="136" stroke="#184818" stroke-width="1.2" opacity="0.2"/><line x1="209.85" y1="124.67" x2="208.04" y2="129.78" stroke="#0f2e0f" stroke-width="1.9" opacity="0.2"/><line x1="212.6" y1="122.81" x2="213.08" y2="131.25" stroke="#184818" stroke-width="1.52" opacity="0.2"/><line x1="216.03" y1="123.58" x2="215.47" y2="132.86" stroke="#0f2e0f" stroke-width="1.68" opacity="0.2"/><line x1="218.91" y1="120.22" x2="217.82" y2="125.97" stroke="#184818" stroke-width="1.37" opacity="0.2"/><line x1="221.8" y1="122.99" x2="223.32" y2="134.31" stroke="#184818" stroke-width="1.49" opacity="0.2"/><line x1="224.88" y1="123.33" x2="224.25" y2="139.28" stroke="#0f2e0f" stroke-width="1.75" opacity="0.2"/><line x1="227.18" y1="122.03" x2="225.48" y2="131.06" stroke="#184818" stroke-width="1.51" opacity="0.2"/><line x1="230.22" y1="124.71" x2="231.5" y2="137.3" stroke="#0f2e0f" stroke-width="1.89" opacity="0.2"/><line x1="233.84" y1="121.04" x2="233.89" y2="129.23" stroke="#0f2e0f" stroke-width="1.89" opacity="0.2"/><line x1="236.82" y1="120.58" x2="235.25" y2="131.79" stroke="#0f2e0f" stroke-width="1.99" opacity="0.2"/><line x1="240.27" y1="120.51" x2="241.42" y2="130.03" stroke="#184818" stroke-width="1.71" opacity="0.2"/><line x1="243.11" y1="124.9" x2="241.5" y2="134.27" stroke="#133a13" stroke-width="1.67" opacity="0.2"/><line x1="245.39" y1="122.82" x2="244.46" y2="133.9" stroke="#0f2e0f" stroke-width="1.9" opacity="0.2"/><line x1="249.03" y1="121.07" x2="249.44" y2="128.25" stroke="#133a13" stroke-width="1.16" opacity="0.2"/><line x1="252.52" y1="120.9" x2="251.2" y2="127" stroke="#0f2e0f" stroke-width="1.49" opacity="0.2"/><line x1="254.94" y1="122.54" x2="255.54" y2="136.34" stroke="#0f2e0f" stroke-width="1.77" opacity="0.2"/><line x1="257.65" y1="123.98" x2="256.32" y2="132.87" stroke="#184818" stroke-width="1.63" opacity="0.2"/><line x1="261.72" y1="125.16" x2="260.49" y2="130.86" stroke="#0f2e0f" stroke-width="1.39" opacity="0.2"/><line x1="263.11" y1="124.88" x2="264.95" y2="136.29" stroke="#184818" stroke-width="1.05" opacity="0.2"/><line x1="266.48" y1="121.57" x2="266.82" y2="128.32" stroke="#133a13" stroke-width="1.31" opacity="0.2"/><line x1="270.8" y1="124.56" x2="271.21" y2="132.9" stroke="#184818" stroke-width="1.98" opacity="0.2"/><line x1="272.14" y1="123.87" x2="272.47" y2="136.3" stroke="#184818" stroke-width="1.31" opacity="0.2"/><line x1="276.75" y1="122.94" x2="275.72" y2="136.66" stroke="#133a13" stroke-width="1.17" opacity="0.2"/><line x1="278.76" y1="120.56" x2="278.34" y2="135.27" stroke="#184818" stroke-width="1.11" opacity="0.2"/><line x1="282.07" y1="122.47" x2="280.33" y2="131.91" stroke="#133a13" stroke-width="1.42" opacity="0.2"/><line x1="285.83" y1="123.34" x2="285.69" y2="132.6" stroke="#184818" stroke-width="1.24" opacity="0.2"/><line x1="287.07" y1="123.9" x2="285.69" y2="132.65" stroke="#0f2e0f" stroke-width="1.13" opacity="0.2"/><line x1="290.39" y1="123.32" x2="290.61" y2="136.98" stroke="#184818" stroke-width="1.84" opacity="0.2"/><line x1="294.61" y1="121.42" x2="295.5" y2="130.3" stroke="#184818" stroke-width="1.63" opacity="0.2"/><line x1="297.16" y1="122.12" x2="295.98" y2="132.36" stroke="#184818" stroke-width="1.68" opacity="0.2"/><line x1="300.88" y1="125.65" x2="300.65" y2="137.2" stroke="#184818" stroke-width="1.53" opacity="0.2"/><line x1="302.81" y1="123.22" x2="303.81" y2="129.6" stroke="#0f2e0f" stroke-width="1.51" opacity="0.2"/><line x1="306.09" y1="122.04" x2="305.62" y2="135.53" stroke="#0f2e0f" stroke-width="1.72" opacity="0.2"/><line x1="308.29" y1="120.78" x2="309.07" y2="133.6" stroke="#133a13" stroke-width="1.32" opacity="0.2"/><line x1="312.33" y1="121.27" x2="311.77" y2="132.45" stroke="#0f2e0f" stroke-width="1.76" opacity="0.2"/><line x1="314.39" y1="124.33" x2="313.54" y2="130.3" stroke="#0f2e0f" stroke-width="1.4" opacity="0.2"/><line x1="317.71" y1="124.98" x2="318.22" y2="135.09" stroke="#0f2e0f" stroke-width="1.86" opacity="0.2"/><line x1="320.26" y1="122.16" x2="320.98" y2="127.48" stroke="#0f2e0f" stroke-width="1.69" opacity="0.2"/><line x1="324.79" y1="120.93" x2="324.64" y2="133.67" stroke="#184818" stroke-width="1.35" opacity="0.2"/><line x1="327.26" y1="121.72" x2="328.91" y2="127.99" stroke="#0f2e0f" stroke-width="1.22" opacity="0.2"/><line x1="330.35" y1="122.86" x2="330.08" y2="134.55" stroke="#184818" stroke-width="1.16" opacity="0.2"/><line x1="333.48" y1="123.61" x2="335.24" y2="135.54" stroke="#0f2e0f" stroke-width="1.84" opacity="0.2"/><line x1="336.14" y1="124.45" x2="335.88" y2="132.25" stroke="#0f2e0f" stroke-width="1.58" opacity="0.2"/><line x1="339.87" y1="121.45" x2="340.49" y2="134.85" stroke="#133a13" stroke-width="1.88" opacity="0.2"/><line x1="342.17" y1="124.39" x2="342.89" y2="140.1" stroke="#133a13" stroke-width="1.79" opacity="0.2"/><line x1="344.42" y1="125.49" x2="342.76" y2="138.74" stroke="#0f2e0f" stroke-width="1.74" opacity="0.2"/><line x1="349" y1="124.02" x2="349.11" y2="131.45" stroke="#184818" stroke-width="1.95" opacity="0.2"/><line x1="350.85" y1="125.61" x2="351.8" y2="138.22" stroke="#0f2e0f" stroke-width="1.63" opacity="0.2"/><line x1="354.02" y1="124.36" x2="354.71" y2="131.62" stroke="#133a13" stroke-width="1.49" opacity="0.2"/><polygon points="191,144 358,145 358,140 191,140" fill="#020502" opacity="0.7"/><ellipse cx="192.14" cy="141.34" rx="5.48" ry="2.34" fill="#030803" opacity="0.6"/><ellipse cx="204.05" cy="130.37" rx="5.34" ry="1.85" fill="#030803" opacity="0.6"/><ellipse cx="216.56" cy="141.64" rx="3.5" ry="2.02" fill="#030803" opacity="0.6"/><ellipse cx="227.56" cy="137.13" rx="3.41" ry="2.53" fill="#030803" opacity="0.6"/><ellipse cx="241.92" cy="135.06" rx="5.12" ry="1.51" fill="#030803" opacity="0.6"/><ellipse cx="255.15" cy="130.25" rx="4.92" ry="2.55" fill="#030803" opacity="0.6"/><ellipse cx="263.8" cy="138.34" rx="4.76" ry="1.86" fill="#030803" opacity="0.6"/><ellipse cx="278.78" cy="130.18" rx="4.27" ry="2.91" fill="#030803" opacity="0.6"/><ellipse cx="291.06" cy="130.77" rx="5.94" ry="2.76" fill="#030803" opacity="0.6"/><ellipse cx="301.44" cy="131.55" rx="5.07" ry="1.52" fill="#030803" opacity="0.6"/><ellipse cx="313.92" cy="129.34" rx="5.69" ry="1.96" fill="#030803" opacity="0.6"/><ellipse cx="323.66" cy="133.12" rx="5.89" ry="1.74" fill="#030803" opacity="0.6"/><ellipse cx="337.67" cy="136.85" rx="3.87" ry="2.34" fill="#030803" opacity="0.6"/></g><polyline points="200,20.5 212,20.8 222,21.5 240,27 260,34 280,40.5 300,44.5 309,45.2 318,46.2 326,42 330,43.3 344,39.6 358,34.2" fill="none" stroke="#1d5c1d" stroke-width="0.8" opacity="0.35"/><polyline points="205,20.3 212,20.5 218,21.5" fill="none" stroke="#2a9a2a" stroke-width="0.9"/><polyline points="310,45 318,46.2 326,42 330,43.3 344,39.6" fill="none" stroke="#2a9a2a" stroke-width="0.9"/><circle cx="208" cy="21" r="1" fill="#2fae2f" opacity="0.85"/><circle cx="215.4" cy="24.2" r="1.2" fill="#2fae2f" opacity="0.85"/><circle cx="325.8" cy="42" r="1.3" fill="#2fae2f" opacity="0.85"/><circle cx="270" cy="34.5" r="0.6" fill="#2fae2f" opacity="0.85"/><circle cx="300" cy="45" r="0.5" fill="#2fae2f" opacity="0.85"/></g><clipPath id="c3"><rect x="21" y="141" width="168" height="129"/></clipPath><g clip-path="url(#c3)"><rect x="21" y="141" width="168" height="129" fill="#000"/><g filter="url(#soft)"><polygon points="21,165.3 40,163.8 60,161.6 75,157.3 85,156.1 100,157 130,156.5 160,155.6 189,156.5 189,272 21,272" fill="#0c1b0c"/><ellipse cx="21.36" cy="174.89" rx="3.46" ry="2.23" fill="#040304" opacity="0.45"/><ellipse cx="36.98" cy="172.94" rx="2.98" ry="1.9" fill="#040304" opacity="0.45"/><ellipse cx="46.16" cy="178.27" rx="2.48" ry="2.68" fill="#040304" opacity="0.45"/><ellipse cx="53.57" cy="172" rx="1.68" ry="1.93" fill="#040304" opacity="0.45"/><ellipse cx="65.91" cy="175.06" rx="2.9" ry="2.48" fill="#040304" opacity="0.45"/><ellipse cx="71.63" cy="174.8" rx="1.55" ry="2.09" fill="#040304" opacity="0.45"/><ellipse cx="82.16" cy="168.25" rx="3.42" ry="2.29" fill="#040304" opacity="0.45"/><ellipse cx="98.16" cy="173.21" rx="1.7" ry="2.58" fill="#040304" opacity="0.45"/><ellipse cx="103.48" cy="172.17" rx="2.26" ry="2.47" fill="#040304" opacity="0.45"/><ellipse cx="113.85" cy="166.19" rx="1.77" ry="2.88" fill="#040304" opacity="0.45"/><ellipse cx="127.7" cy="166.26" rx="1.62" ry="1.66" fill="#040304" opacity="0.45"/><ellipse cx="137.42" cy="175.79" rx="3.5" ry="2.1" fill="#040304" opacity="0.45"/><ellipse cx="141.4" cy="165.34" rx="2.35" ry="2.6" fill="#040304" opacity="0.45"/><ellipse cx="158.97" cy="170.5" rx="2.75" ry="1.71" fill="#040304" opacity="0.45"/><ellipse cx="162.82" cy="163.7" rx="2.77" ry="2.1" fill="#040304" opacity="0.45"/><ellipse cx="178.83" cy="173.75" rx="2.46" ry="1.83" fill="#040304" opacity="0.45"/><polygon points="21,165.3 40,163.8 60,161.6 75,157.3 85,156.1 100,157 130,156.5 160,155.6 189,156.5 189,162 160,161.1 130,162 100,162.5 85,161.6 75,162.8 60,167.1 40,169.3 21,170.8" fill="url(#gcl)"/><line x1="24.23" y1="167.04" x2="24.68" y2="193.24" stroke="#5a1a6a" stroke-width="0.6" opacity="0.45"/><line x1="35" y1="166.19" x2="33.57" y2="197" stroke="#5a1a6a" stroke-width="0.6" opacity="0.45"/><line x1="38.43" y1="165.92" x2="39.28" y2="193.33" stroke="#5a1a6a" stroke-width="0.6" opacity="0.45"/><line x1="51.34" y1="164.55" x2="49.38" y2="193.31" stroke="#5a1a6a" stroke-width="0.6" opacity="0.45"/><line x1="59.74" y1="163.63" x2="60.64" y2="194.17" stroke="#5a1a6a" stroke-width="0.6" opacity="0.45"/><line x1="64.27" y1="162.38" x2="65.49" y2="192.76" stroke="#5a1a6a" stroke-width="0.6" opacity="0.45"/><line x1="74.05" y1="159.57" x2="73.93" y2="197.2" stroke="#5a1a6a" stroke-width="0.6" opacity="0.45"/><line x1="81.26" y1="158.55" x2="80.97" y2="196.75" stroke="#5a1a6a" stroke-width="0.6" opacity="0.45"/><line x1="89.21" y1="158.35" x2="87.83" y2="197.57" stroke="#5a1a6a" stroke-width="0.6" opacity="0.45"/><line x1="96.41" y1="158.78" x2="94.73" y2="197.4" stroke="#5a1a6a" stroke-width="0.6" opacity="0.45"/><line x1="106.86" y1="158.89" x2="106.18" y2="197.97" stroke="#5a1a6a" stroke-width="0.6" opacity="0.45"/><line x1="113.95" y1="158.77" x2="113.64" y2="196.39" stroke="#5a1a6a" stroke-width="0.6" opacity="0.45"/><line x1="120.21" y1="158.66" x2="118.76" y2="196.84" stroke="#5a1a6a" stroke-width="0.6" opacity="0.45"/><line x1="131.19" y1="158.46" x2="131.73" y2="195.34" stroke="#5a1a6a" stroke-width="0.6" opacity="0.45"/><line x1="139.09" y1="158.23" x2="140.05" y2="192.52" stroke="#5a1a6a" stroke-width="0.6" opacity="0.45"/><line x1="146.15" y1="158.02" x2="146.46" y2="191.6" stroke="#5a1a6a" stroke-width="0.6" opacity="0.45"/><line x1="153.33" y1="157.8" x2="152.77" y2="197.65" stroke="#5a1a6a" stroke-width="0.6" opacity="0.45"/><line x1="159.44" y1="157.62" x2="158.49" y2="193.36" stroke="#5a1a6a" stroke-width="0.6" opacity="0.45"/><line x1="167.36" y1="157.83" x2="166.17" y2="197.22" stroke="#5a1a6a" stroke-width="0.6" opacity="0.45"/><line x1="178.5" y1="158.17" x2="179.85" y2="190.74" stroke="#5a1a6a" stroke-width="0.6" opacity="0.45"/><line x1="185.9" y1="158.4" x2="186.58" y2="190.14" stroke="#5a1a6a" stroke-width="0.6" opacity="0.45"/><polyline points="21,166.1 40,164.6 60,162.4 75,158.1 85,156.9 100,157.8 130,157.3 160,156.4 189,157.3" fill="none" stroke="#8a2898" stroke-width="2.2" opacity="0.9"/><polygon points="21,179 100,178 189,175.5 189,194.5 100,198.5 21,199" fill="url(#inl)"/><polygon points="21,199 100,198.5 189,194.5 189,200.6 100,202.3 21,204.5" fill="#0d1d0d"/><polygon points="21,204.5 100,202.3 189,200.6 189,236.6 100,242.2 21,245.9" fill="url(#onl)"/><polygon points="21,245.9 100,242.2 189,236.6 189,272 21,272" fill="#133013"/><polygon points="21,257.9 100,254.2 189,248.6 189,272 21,272" fill="#000" opacity="0.35"/><ellipse cx="25.25" cy="254.11" rx="2.42" ry="3.35" fill="#030803" opacity="0.85"/><ellipse cx="34.18" cy="261.32" rx="3.32" ry="3.42" fill="#030803" opacity="0.85"/><ellipse cx="44.11" cy="260.01" rx="3.1" ry="2.34" fill="#030803" opacity="0.85"/><ellipse cx="51.02" cy="257.1" rx="3.18" ry="4.37" fill="#030803" opacity="0.85"/><ellipse cx="60.76" cy="263.44" rx="2.53" ry="3.15" fill="#030803" opacity="0.85"/><ellipse cx="70.12" cy="256.76" rx="3.44" ry="2.48" fill="#030803" opacity="0.85"/><ellipse cx="77.85" cy="249.63" rx="2.25" ry="3.55" fill="#030803" opacity="0.85"/><ellipse cx="86.43" cy="248.54" rx="1.58" ry="3.75" fill="#030803" opacity="0.85"/><ellipse cx="98.73" cy="254.15" rx="1.74" ry="2.34" fill="#030803" opacity="0.85"/><ellipse cx="107.45" cy="248.05" rx="3.48" ry="2.5" fill="#030803" opacity="0.85"/><ellipse cx="111.69" cy="257.39" rx="2.21" ry="2.92" fill="#030803" opacity="0.85"/><ellipse cx="125.05" cy="257.69" rx="2.97" ry="2.03" fill="#030803" opacity="0.85"/><ellipse cx="130.53" cy="248.87" rx="2.53" ry="3.31" fill="#030803" opacity="0.85"/><ellipse cx="140.14" cy="252.01" rx="3.13" ry="2.88" fill="#030803" opacity="0.85"/><ellipse cx="149.13" cy="249.02" rx="2.71" ry="2.09" fill="#030803" opacity="0.85"/><ellipse cx="161.46" cy="246.97" rx="2.21" ry="3.73" fill="#030803" opacity="0.85"/><ellipse cx="165.13" cy="257.93" rx="2.38" ry="3.98" fill="#030803" opacity="0.85"/><ellipse cx="176.93" cy="243.47" rx="2.02" ry="2.38" fill="#030803" opacity="0.85"/></g></g><clipPath id="c4"><rect x="191" y="141" width="167" height="129"/></clipPath><g clip-path="url(#c4)"><rect x="191" y="141" width="167" height="129" fill="#000"/><g filter="url(#soft2)"><polygon points="191,156 250,154.5 300,154 358,153 358,272 191,272" fill="#040c04"/><polygon points="191,177 358,174 358,196 191,197" fill="#030803"/><polygon points="191,197 358,196 358,202 191,205" fill="#061006"/><polygon points="191,205 358,202 358,238 191,242" fill="#020602"/><polygon points="191,242 358,238 358,272 191,272" fill="#081608"/><line x1="192.86" y1="246.32" x2="194.21" y2="258.69" stroke="#0f2e0f" stroke-width="1.88" opacity="0.4"/><line x1="195.08" y1="245.35" x2="196.87" y2="259.24" stroke="#133a13" stroke-width="1.02" opacity="0.4"/><line x1="198.99" y1="244.24" x2="197.12" y2="254.57" stroke="#133a13" stroke-width="1.07" opacity="0.4"/><line x1="201.24" y1="244.98" x2="202.61" y2="256.58" stroke="#133a13" stroke-width="1.69" opacity="0.4"/><line x1="203.9" y1="242.84" x2="203.97" y2="258.37" stroke="#184818" stroke-width="1.33" opacity="0.4"/><line x1="206.43" y1="246.1" x2="204.61" y2="257.58" stroke="#133a13" stroke-width="1.82" opacity="0.4"/><line x1="210.45" y1="243.19" x2="212.2" y2="253.34" stroke="#184818" stroke-width="1.01" opacity="0.4"/><line x1="213.16" y1="243.14" x2="213" y2="248.36" stroke="#0f2e0f" stroke-width="1.05" opacity="0.4"/><line x1="215.29" y1="244.77" x2="214.39" y2="252.77" stroke="#0f2e0f" stroke-width="1.99" opacity="0.4"/><line x1="218.71" y1="244.2" x2="217.27" y2="255.63" stroke="#0f2e0f" stroke-width="1.03" opacity="0.4"/><line x1="222.12" y1="245.11" x2="223.22" y2="259.71" stroke="#0f2e0f" stroke-width="1.57" opacity="0.4"/><line x1="224.2" y1="245.16" x2="223.15" y2="258.89" stroke="#133a13" stroke-width="1.68" opacity="0.4"/><line x1="227.61" y1="244.94" x2="227.64" y2="258.07" stroke="#0f2e0f" stroke-width="1.25" opacity="0.4"/><line x1="231.75" y1="244.6" x2="232.56" y2="253.28" stroke="#0f2e0f" stroke-width="1.32" opacity="0.4"/><line x1="234.98" y1="243.35" x2="233.95" y2="252.39" stroke="#133a13" stroke-width="2" opacity="0.4"/><line x1="236.3" y1="241.94" x2="236.99" y2="256.72" stroke="#184818" stroke-width="1.45" opacity="0.4"/><line x1="240.14" y1="242.34" x2="238.4" y2="249.19" stroke="#184818" stroke-width="1.72" opacity="0.4"/><line x1="242.5" y1="243.63" x2="244.37" y2="255.87" stroke="#133a13" stroke-width="1.92" opacity="0.4"/><line x1="246.17" y1="241.08" x2="246.49" y2="248.04" stroke="#184818" stroke-width="1.36" opacity="0.4"/><line x1="249.55" y1="242.74" x2="247.82" y2="257.29" stroke="#184818" stroke-width="1.32" opacity="0.4"/><line x1="251.35" y1="245.04" x2="252.38" y2="256.05" stroke="#0f2e0f" stroke-width="1.27" opacity="0.4"/><line x1="255.41" y1="241.55" x2="254.21" y2="250.94" stroke="#0f2e0f" stroke-width="1.28" opacity="0.4"/><line x1="258" y1="240.89" x2="256.23" y2="248.55" stroke="#133a13" stroke-width="1.6" opacity="0.4"/><line x1="260.16" y1="244.39" x2="259.52" y2="259.02" stroke="#133a13" stroke-width="1.01" opacity="0.4"/><line x1="263.54" y1="243.47" x2="262.83" y2="248.64" stroke="#133a13" stroke-width="1.21" opacity="0.4"/><line x1="266.65" y1="243.93" x2="266.27" y2="256.07" stroke="#0f2e0f" stroke-width="1.8" opacity="0.4"/><line x1="269.35" y1="244.44" x2="267.7" y2="258.2" stroke="#0f2e0f" stroke-width="1.33" opacity="0.4"/><line x1="272.99" y1="243.03" x2="272.84" y2="250.85" stroke="#133a13" stroke-width="1.03" opacity="0.4"/><line x1="275.63" y1="243.24" x2="275.29" y2="251.69" stroke="#0f2e0f" stroke-width="1.72" opacity="0.4"/><line x1="278.66" y1="240.37" x2="277.23" y2="247.09" stroke="#133a13" stroke-width="1.36" opacity="0.4"/><line x1="281.72" y1="241.55" x2="283.19" y2="254.03" stroke="#133a13" stroke-width="1.66" opacity="0.4"/><line x1="285.2" y1="241.4" x2="284.23" y2="254.55" stroke="#0f2e0f" stroke-width="1.48" opacity="0.4"/><line x1="287.06" y1="242.94" x2="287.26" y2="255.1" stroke="#0f2e0f" stroke-width="1.45" opacity="0.4"/><line x1="290.56" y1="242.23" x2="289.08" y2="257.58" stroke="#133a13" stroke-width="1.56" opacity="0.4"/><line x1="293.2" y1="243.6" x2="291.8" y2="259.34" stroke="#0f2e0f" stroke-width="1.23" opacity="0.4"/><line x1="297.51" y1="239.9" x2="296.05" y2="245.21" stroke="#133a13" stroke-width="1.54" opacity="0.4"/><line x1="299.41" y1="243.29" x2="299.83" y2="251.14" stroke="#0f2e0f" stroke-width="1.15" opacity="0.4"/><line x1="302.35" y1="243.02" x2="301" y2="258.16" stroke="#133a13" stroke-width="1.35" opacity="0.4"/><line x1="306.42" y1="241.44" x2="305.27" y2="255.9" stroke="#184818" stroke-width="1.9" opacity="0.4"/><line x1="308.78" y1="240.24" x2="306.88" y2="253.93" stroke="#0f2e0f" stroke-width="1.73" opacity="0.4"/><line x1="311.13" y1="242.35" x2="312.59" y2="251.77" stroke="#133a13" stroke-width="1.23" opacity="0.4"/><line x1="314.75" y1="243.57" x2="315.38" y2="252.7" stroke="#133a13" stroke-width="1.03" opacity="0.4"/><line x1="317.04" y1="242.53" x2="316.46" y2="250.19" stroke="#184818" stroke-width="1.76" opacity="0.4"/><line x1="321.29" y1="240.37" x2="320.15" y2="256.31" stroke="#0f2e0f" stroke-width="1.79" opacity="0.4"/><line x1="323.95" y1="243.48" x2="325.77" y2="256.95" stroke="#133a13" stroke-width="1.82" opacity="0.4"/><line x1="326.57" y1="240.41" x2="328.13" y2="250.75" stroke="#133a13" stroke-width="1.32" opacity="0.4"/><line x1="330.22" y1="243.45" x2="328.43" y2="250.78" stroke="#133a13" stroke-width="1.85" opacity="0.4"/><line x1="333.47" y1="238.82" x2="333.23" y2="252.33" stroke="#184818" stroke-width="1.86" opacity="0.4"/><line x1="336.99" y1="239.99" x2="335.44" y2="245.26" stroke="#133a13" stroke-width="1.13" opacity="0.4"/><line x1="338.61" y1="240.98" x2="339.61" y2="249.85" stroke="#184818" stroke-width="1.68" opacity="0.4"/><line x1="341.18" y1="240.1" x2="342.05" y2="255.2" stroke="#184818" stroke-width="1.98" opacity="0.4"/><line x1="344.07" y1="239.51" x2="344.82" y2="253.22" stroke="#133a13" stroke-width="1.13" opacity="0.4"/><line x1="348.19" y1="241.11" x2="349.1" y2="253.79" stroke="#133a13" stroke-width="1.99" opacity="0.4"/><line x1="350.63" y1="242.57" x2="350.58" y2="248.89" stroke="#133a13" stroke-width="1.53" opacity="0.4"/><line x1="353.01" y1="239.24" x2="353.54" y2="250.18" stroke="#0f2e0f" stroke-width="1.5" opacity="0.4"/><polygon points="191,266 358,262 358,272 191,272" fill="#020502" opacity="0.7"/><ellipse cx="191.67" cy="254.93" rx="4.49" ry="2.88" fill="#030803" opacity="0.6"/><ellipse cx="205.1" cy="252.67" rx="5.9" ry="2.82" fill="#030803" opacity="0.6"/><ellipse cx="219.39" cy="253.14" rx="3.53" ry="1.9" fill="#030803" opacity="0.6"/><ellipse cx="227.41" cy="249.73" rx="4.53" ry="2.11" fill="#030803" opacity="0.6"/><ellipse cx="242.34" cy="253.85" rx="3.03" ry="2.53" fill="#030803" opacity="0.6"/><ellipse cx="254.92" cy="256.08" rx="4.65" ry="2.54" fill="#030803" opacity="0.6"/><ellipse cx="268.89" cy="260.37" rx="5.15" ry="2.1" fill="#030803" opacity="0.6"/><ellipse cx="276.91" cy="253.81" rx="5.92" ry="2.08" fill="#030803" opacity="0.6"/><ellipse cx="289.31" cy="253.38" rx="3.43" ry="3" fill="#030803" opacity="0.6"/><ellipse cx="299.03" cy="255.92" rx="5.78" ry="1.88" fill="#030803" opacity="0.6"/><ellipse cx="314.67" cy="252.32" rx="3.72" ry="1.8" fill="#030803" opacity="0.6"/><ellipse cx="323.7" cy="258.62" rx="5.35" ry="2.86" fill="#030803" opacity="0.6"/><ellipse cx="335.3" cy="256.26" rx="3.97" ry="2.47" fill="#030803" opacity="0.6"/></g><polyline points="230,155 250,153.8 270,154 320,153.4 340,154" fill="none" stroke="#1d5c1d" stroke-width="0.8" opacity="0.35"/><polyline points="240,154.5 248,153.6 256,153.9" fill="none" stroke="#2a9a2a" stroke-width="0.9"/><circle cx="250" cy="154.5" r="0.8" fill="#2fae2f" opacity="0.85"/><circle cx="322" cy="155" r="0.8" fill="#2fae2f" opacity="0.85"/></g><rect x="189" y="8" width="2" height="262" fill="#b8b8b8"/><rect x="21" y="138" width="337" height="3" fill="#f4f4f4"/><text x="23" y="19.8" font-size="10.9" font-weight="bold" text-anchor="start" fill="#fff" stroke="#fff" stroke-width="0.25">COX10<tspan font-size="6.2" dy="-4.3" fill="#eee" stroke="#eee" stroke-width="0.15">wt</tspan></text><text x="23" y="151.6" font-size="10.9" font-weight="bold" text-anchor="start" fill="#fff" stroke="#fff" stroke-width="0.25">COX10<tspan font-size="5.6" dy="-4.3" fill="#ddd" stroke="#ddd" stroke-width="0.15">fl/fl</tspan></text><text x="4.3" y="20.5" font-size="17" font-weight="bold" text-anchor="start" fill="#000" stroke="#000" stroke-width="0.25">A</text><text x="194.1" y="65.6" font-size="10.4" font-weight="normal" text-anchor="start" fill="#fff" stroke="#fff" stroke-width="0.12">INL</text><text x="193.6" y="96.7" font-size="10.4" font-weight="normal" text-anchor="start" fill="#fff" stroke="#fff" stroke-width="0.12">ONL</text><text x="193.8" y="172.8" font-size="10.4" font-weight="normal" text-anchor="start" fill="#fff" stroke="#fff" stroke-width="0.12">GCL</text><text x="194.1" y="197.8" font-size="10.4" font-weight="normal" text-anchor="start" fill="#fff" stroke="#fff" stroke-width="0.12">INL</text><text x="193.6" y="228.9" font-size="10.4" font-weight="normal" text-anchor="start" fill="#fff" stroke="#fff" stroke-width="0.12">ONL</text><text x="193.5" y="266.4" font-size="11.2" font-weight="bold" text-anchor="start" fill="#fff" stroke="#fff" stroke-width="0.25">GFAP</text><text x="22.5" y="265.7" font-size="11.2" font-weight="bold" text-anchor="start" fill="#111" stroke="#111" stroke-width="0.25"><tspan fill="#22e822" stroke="#22e822">GFAP</tspan> <tspan fill="#f020d8" stroke="#f020d8">GS</tspan> <tspan fill="#1c1cff" stroke="#1c1cff">DAPI</tspan></text><rect x="339" y="262.3" width="14" height="1.6" fill="#fff"/><polygon points="215.1,27.4 219.3,35.2 210.9,35.2" fill="#fff"/><polygon points="327.8,46.4 332,54.2 323.6,54.2" fill="#fff"/><polygon points="249.3,160.1 253.5,167.9 245.1,167.9" fill="#fff"/><polygon points="323.5,160.1 327.7,167.9 319.3,167.9" fill="#fff"/><text x="374.1" y="20.5" font-size="17" font-weight="bold" text-anchor="start" fill="#000" stroke="#000" stroke-width="0.25">B</text><text transform="translate(458.9,26.3) scale(1,1.16)" font-size="9.6" font-weight="bold" text-anchor="middle" fill="#111" stroke="#111" stroke-width="0.25">CRALBP</text><line x1="422.6" y1="44.1" x2="422.6" y2="149.9" stroke="#1a1a1a" stroke-width="1.3"/><line x1="419" y1="44.7" x2="422.6" y2="44.7" stroke="#1a1a1a" stroke-width="1.3"/><text transform="translate(417.8,47.2) scale(1,1.16)" font-size="7.5" font-weight="bold" text-anchor="end" fill="#111" stroke="#111" stroke-width="0.25">0.20</text><line x1="419" y1="70.9" x2="422.6" y2="70.9" stroke="#1a1a1a" stroke-width="1.3"/><text transform="translate(417.8,73.4) scale(1,1.16)" font-size="7.5" font-weight="bold" text-anchor="end" fill="#111" stroke="#111" stroke-width="0.25">0.15</text><line x1="419" y1="97.1" x2="422.6" y2="97.1" stroke="#1a1a1a" stroke-width="1.3"/><text transform="translate(417.8,99.6) scale(1,1.16)" font-size="7.5" font-weight="bold" text-anchor="end" fill="#111" stroke="#111" stroke-width="0.25">0.10</text><line x1="419" y1="123.3" x2="422.6" y2="123.3" stroke="#1a1a1a" stroke-width="1.3"/><text transform="translate(417.8,125.8) scale(1,1.16)" font-size="7.5" font-weight="bold" text-anchor="end" fill="#111" stroke="#111" stroke-width="0.25">0.05</text><line x1="419" y1="149.3" x2="422.6" y2="149.3" stroke="#1a1a1a" stroke-width="1.3"/><text transform="translate(417.8,151.8) scale(1,1.16)" font-size="7.5" font-weight="bold" text-anchor="end" fill="#111" stroke="#111" stroke-width="0.25">0.00</text><line x1="419" y1="149.3" x2="493.6" y2="149.3" stroke="#1a1a1a" stroke-width="1.3"/><line x1="443.4" y1="149.3" x2="443.4" y2="152.9" stroke="#1a1a1a" stroke-width="1.3"/><line x1="473.3" y1="149.3" x2="473.3" y2="152.9" stroke="#1a1a1a" stroke-width="1.3"/><text transform="translate(398.2,96.9) rotate(-90)" font-size="8.5" font-weight="bold" text-anchor="middle" fill="#111" stroke="#111" stroke-width="0.25">Normalized Protein</text><rect x="433.6" y="87.7" width="19.6" height="61.6" fill="#fff" stroke="#333" stroke-width="1.1"/><rect x="463.4" y="73.4" width="19.6" height="75.9" fill="#333" stroke="#222" stroke-width="1"/><line x1="443.4" y1="83.3" x2="443.4" y2="91.2" stroke="#222" stroke-width="0.9"/><line x1="441.2" y1="83.3" x2="445.6" y2="83.3" stroke="#222" stroke-width="0.9"/><line x1="441.2" y1="91.2" x2="445.6" y2="91.2" stroke="#222" stroke-width="0.9"/><line x1="473.3" y1="68.4" x2="473.3" y2="73.4" stroke="#222" stroke-width="0.9"/><line x1="471.1" y1="68.4" x2="475.5" y2="68.4" stroke="#222" stroke-width="0.9"/><line x1="473.3" y1="73.4" x2="473.3" y2="79" stroke="#aaa" stroke-width="0.9"/><line x1="471.1" y1="79" x2="475.5" y2="79" stroke="#aaa" stroke-width="0.9"/><circle cx="443.3" cy="75" r="1.5" fill="#111"/><circle cx="440" cy="81.5" r="1.5" fill="#111"/><circle cx="446.6" cy="82.7" r="1.5" fill="#111"/><circle cx="443.3" cy="88.9" r="1.5" fill="#111"/><circle cx="440" cy="97.9" r="1.5" fill="#111"/><circle cx="446.6" cy="97" r="1.5" fill="#111"/><polygon points="473.6,60.22 475.25,63.19 471.95,63.19" fill="#111"/><polygon points="470.2,66.22 471.85,69.19 468.55,69.19" fill="#111"/><polygon points="476.7,66.02 478.35,68.99 475.05,68.99" fill="#111"/><polygon points="473.6,76.92 475.25,79.89 471.95,79.89" fill="#111"/><polygon points="473.6,89.02 475.25,91.99 471.95,91.99" fill="#111"/><polyline points="443.3,68.4 443.3,49.4 473.6,49.4 473.6,55.4" fill="none" stroke="#777" stroke-width="0.9"/><text x="456.3" y="47.4" font-size="11.5" font-weight="bold" text-anchor="start" fill="#111" stroke="#111" stroke-width="0.25">*</text><text transform="translate(400.7,205.8) rotate(-45)" font-size="8.05" font-weight="bold" fill="#111" stroke="#111" stroke-width="0.25">GLAST-COX 10<tspan font-size="5.5" dy="-3.6" font-weight="normal" fill="#333" stroke="#333" stroke-width="0.15">wt</tspan></text><text transform="translate(429.6,206.8) rotate(-45)" font-size="8.05" font-weight="bold" fill="#111" stroke="#111" stroke-width="0.25">GLAST-COX 10<tspan font-size="5.5" dy="-3.6" font-weight="normal" fill="#333" stroke="#333" stroke-width="0.15">fl/fl</tspan></text><text x="4.5" y="302.3" font-size="17" font-weight="bold" text-anchor="start" fill="#000" stroke="#000" stroke-width="0.25">C</text><text x="64.2" y="297.7" font-size="11.5" font-weight="bold" text-anchor="start" fill="#111" stroke="#111" stroke-width="0.25">Scotopic a-wave</text><line x1="50" y1="313" x2="50" y2="433.1" stroke="#1a1a1a" stroke-width="1.3"/><line x1="45.5" y1="313.6" x2="50" y2="313.6" stroke="#1a1a1a" stroke-width="1.3"/><text x="43.6" y="316.6" font-size="8.7" font-weight="bold" text-anchor="end" fill="#111" stroke="#111" stroke-width="0.25">600</text><line x1="45.5" y1="353.23" x2="50" y2="353.23" stroke="#1a1a1a" stroke-width="1.3"/><text x="43.6" y="356.23" font-size="8.7" font-weight="bold" text-anchor="end" fill="#111" stroke="#111" stroke-width="0.25">400</text><line x1="45.5" y1="392.87" x2="50" y2="392.87" stroke="#1a1a1a" stroke-width="1.3"/><text x="43.6" y="395.87" font-size="8.7" font-weight="bold" text-anchor="end" fill="#111" stroke="#111" stroke-width="0.25">200</text><line x1="45.5" y1="432.5" x2="50" y2="432.5" stroke="#1a1a1a" stroke-width="1.3"/><text x="43.6" y="435.5" font-size="8.7" font-weight="bold" text-anchor="end" fill="#111" stroke="#111" stroke-width="0.25">0</text><line x1="45.5" y1="432.5" x2="168.2" y2="432.5" stroke="#1a1a1a" stroke-width="1.3"/><line x1="59.8" y1="432.5" x2="59.8" y2="436.8" stroke="#1a1a1a" stroke-width="1.3"/><text x="59.8" y="446.9" font-size="8.3" font-weight="bold" text-anchor="middle" fill="#111" stroke="#111" stroke-width="0.25">0.1</text><line x1="79.6" y1="432.5" x2="79.6" y2="436.8" stroke="#1a1a1a" stroke-width="1.3"/><text x="79.6" y="446.9" font-size="8.3" font-weight="bold" text-anchor="middle" fill="#111" stroke="#111" stroke-width="0.25">0.3</text><line x1="99.2" y1="432.5" x2="99.2" y2="436.8" stroke="#1a1a1a" stroke-width="1.3"/><text x="99.2" y="446.9" font-size="8.3" font-weight="bold" text-anchor="middle" fill="#111" stroke="#111" stroke-width="0.25">1.0</text><line x1="119" y1="432.5" x2="119" y2="436.8" stroke="#1a1a1a" stroke-width="1.3"/><text x="119" y="446.9" font-size="8.3" font-weight="bold" text-anchor="middle" fill="#111" stroke="#111" stroke-width="0.25">3.0</text><line x1="138.7" y1="432.5" x2="138.7" y2="436.8" stroke="#1a1a1a" stroke-width="1.3"/><text x="138.7" y="446.9" font-size="8.3" font-weight="bold" text-anchor="middle" fill="#111" stroke="#111" stroke-width="0.25">10.0</text><line x1="158.4" y1="432.5" x2="158.4" y2="436.8" stroke="#1a1a1a" stroke-width="1.3"/><text x="158.4" y="446.9" font-size="8.3" font-weight="bold" text-anchor="middle" fill="#111" stroke="#111" stroke-width="0.25">25.0</text><text x="51.6" y="465.4" font-size="10.0" font-weight="bold" text-anchor="start" fill="#111" stroke="#111" stroke-width="0.25">Flash Intensity (cd.s/m<tspan font-size="7.4" dy="-4.4">2</tspan><tspan dy="4.4">)</tspan></text><text transform="translate(23.1,372.7) rotate(-90)" font-size="9.75" font-weight="bold" text-anchor="middle" fill="#111" stroke="#111" stroke-width="0.25">Amplitude (µV)</text><line x1="68.9" y1="327.4" x2="150.5" y2="327.4" stroke="#555" stroke-width="0.9"/><text x="102.9" y="326.6" font-size="10" font-weight="bold" text-anchor="start" fill="#111" stroke="#111" stroke-width="0.25">****</text><line x1="168.7" y1="347.5" x2="168.7" y2="366.4" stroke="#333" stroke-width="1.1"/><text x="171.8" y="360.1" font-size="10.5" font-weight="bold" text-anchor="start" fill="#111" stroke="#111" stroke-width="0.25">**</text><polyline points="59.8,406.6 79.6,395.4 99.2,387.2 119,382.9 138.7,376.5 158.4,365.7" fill="none" stroke="#333" stroke-width="0.95"/><line x1="59.8" y1="404" x2="59.8" y2="409" stroke="#333" stroke-width="0.9"/><line x1="56.7" y1="404" x2="62.9" y2="404" stroke="#333" stroke-width="0.9"/><line x1="56.7" y1="409" x2="62.9" y2="409" stroke="#333" stroke-width="0.9"/><line x1="79.6" y1="393" x2="79.6" y2="398" stroke="#333" stroke-width="0.9"/><line x1="76.5" y1="393" x2="82.7" y2="393" stroke="#333" stroke-width="0.9"/><line x1="76.5" y1="398" x2="82.7" y2="398" stroke="#333" stroke-width="0.9"/><line x1="99.2" y1="384.1" x2="99.2" y2="391.7" stroke="#333" stroke-width="0.9"/><line x1="96.1" y1="384.1" x2="102.3" y2="384.1" stroke="#333" stroke-width="0.9"/><line x1="96.1" y1="391.7" x2="102.3" y2="391.7" stroke="#333" stroke-width="0.9"/><line x1="119" y1="377.5" x2="119" y2="386.9" stroke="#333" stroke-width="0.9"/><line x1="115.9" y1="377.5" x2="122.1" y2="377.5" stroke="#333" stroke-width="0.9"/><line x1="115.9" y1="386.9" x2="122.1" y2="386.9" stroke="#333" stroke-width="0.9"/><line x1="138.7" y1="371.1" x2="138.7" y2="380.6" stroke="#333" stroke-width="0.9"/><line x1="135.6" y1="371.1" x2="141.8" y2="371.1" stroke="#333" stroke-width="0.9"/><line x1="135.6" y1="380.6" x2="141.8" y2="380.6" stroke="#333" stroke-width="0.9"/><line x1="158.4" y1="360" x2="158.4" y2="371.1" stroke="#333" stroke-width="0.9"/><line x1="155.3" y1="360" x2="161.5" y2="360" stroke="#333" stroke-width="0.9"/><line x1="155.3" y1="371.1" x2="161.5" y2="371.1" stroke="#333" stroke-width="0.9"/><polyline points="59.8,404.9 79.6,389.3 99.2,378 119,367.6 138.7,352.9 158.4,348.2" fill="none" stroke="#4242f0" stroke-width="0.95"/><line x1="59.8" y1="401.1" x2="59.8" y2="407.7" stroke="#6a6ade" stroke-width="0.9"/><line x1="56.7" y1="401.1" x2="62.9" y2="401.1" stroke="#6a6ade" stroke-width="0.9"/><line x1="56.7" y1="407.7" x2="62.9" y2="407.7" stroke="#6a6ade" stroke-width="0.9"/><line x1="79.6" y1="383.2" x2="79.6" y2="395.4" stroke="#6a6ade" stroke-width="0.9"/><line x1="76.5" y1="383.2" x2="82.7" y2="383.2" stroke="#6a6ade" stroke-width="0.9"/><line x1="76.5" y1="395.4" x2="82.7" y2="395.4" stroke="#6a6ade" stroke-width="0.9"/><line x1="99.2" y1="369.2" x2="99.2" y2="386.9" stroke="#6a6ade" stroke-width="0.9"/><line x1="96.1" y1="369.2" x2="102.3" y2="369.2" stroke="#6a6ade" stroke-width="0.9"/><line x1="96.1" y1="386.9" x2="102.3" y2="386.9" stroke="#6a6ade" stroke-width="0.9"/><line x1="119" y1="357.6" x2="119" y2="377.5" stroke="#6a6ade" stroke-width="0.9"/><line x1="115.9" y1="357.6" x2="122.1" y2="357.6" stroke="#6a6ade" stroke-width="0.9"/><line x1="115.9" y1="377.5" x2="122.1" y2="377.5" stroke="#6a6ade" stroke-width="0.9"/><line x1="138.7" y1="341.1" x2="138.7" y2="364.7" stroke="#6a6ade" stroke-width="0.9"/><line x1="135.6" y1="341.1" x2="141.8" y2="341.1" stroke="#6a6ade" stroke-width="0.9"/><line x1="135.6" y1="364.7" x2="141.8" y2="364.7" stroke="#6a6ade" stroke-width="0.9"/><line x1="158.4" y1="335.6" x2="158.4" y2="360" stroke="#6a6ade" stroke-width="0.9"/><line x1="155.3" y1="335.6" x2="161.5" y2="335.6" stroke="#6a6ade" stroke-width="0.9"/><line x1="155.3" y1="360" x2="161.5" y2="360" stroke="#6a6ade" stroke-width="0.9"/><polygon points="59.8,403.79 62.4,408.47 57.2,408.47" fill="#000"/><polygon points="79.6,392.59 82.2,397.27 77,397.27" fill="#000"/><polygon points="99.2,384.39 101.8,389.07 96.6,389.07" fill="#000"/><polygon points="119,380.09 121.6,384.77 116.4,384.77" fill="#000"/><polygon points="138.7,373.69 141.3,378.37 136.1,378.37" fill="#000"/><polygon points="158.4,362.89 161,367.57 155.8,367.57" fill="#000"/><circle cx="59.8" cy="404.9" r="2.7" fill="#0a0aff"/><circle cx="79.6" cy="389.3" r="2.7" fill="#0a0aff"/><circle cx="99.2" cy="378" r="2.7" fill="#0a0aff"/><circle cx="119" cy="367.6" r="2.7" fill="#0a0aff"/><circle cx="138.7" cy="352.9" r="2.7" fill="#0a0aff"/><circle cx="158.4" cy="348.2" r="2.7" fill="#0a0aff"/><line x1="58.5" y1="486.3" x2="71.4" y2="486.3" stroke="#5050e8" stroke-width="1.0"/><circle cx="65" cy="486.3" r="2.9" fill="#0a0aff"/><text x="79" y="490.6" font-size="9.65" font-weight="normal" text-anchor="start" fill="#111" stroke="#111" stroke-width="0.12">GLAST-COX10<tspan font-size="6.5" dy="-4.2">wt</tspan></text><line x1="58.5" y1="505.1" x2="71.4" y2="505.1" stroke="#333" stroke-width="1.0"/><polygon points="65,501.97 67.9,507.19 62.1,507.19" fill="#000"/><text x="79" y="509.2" font-size="9.65" font-weight="normal" text-anchor="start" fill="#111" stroke="#111" stroke-width="0.12">GLAST-COX10<tspan font-size="6.5" dy="-4.2">fl/fl</tspan></text><text x="195" y="302.3" font-size="17" font-weight="bold" text-anchor="start" fill="#000" stroke="#000" stroke-width="0.25">D</text><text x="252.6" y="297.7" font-size="11.4" font-weight="bold" text-anchor="start" fill="#111" stroke="#111" stroke-width="0.25">Scotopic b-wave</text><line x1="237.5" y1="314" x2="237.5" y2="434.6" stroke="#1a1a1a" stroke-width="1.3"/><line x1="232.5" y1="314.6" x2="237.5" y2="314.6" stroke="#1a1a1a" stroke-width="1.3"/><text x="230.7" y="317.6" font-size="8.7" font-weight="bold" text-anchor="end" fill="#111" stroke="#111" stroke-width="0.25">800</text><line x1="232.5" y1="344.45" x2="237.5" y2="344.45" stroke="#1a1a1a" stroke-width="1.3"/><text x="230.7" y="347.45" font-size="8.7" font-weight="bold" text-anchor="end" fill="#111" stroke="#111" stroke-width="0.25">600</text><line x1="232.5" y1="374.3" x2="237.5" y2="374.3" stroke="#1a1a1a" stroke-width="1.3"/><text x="230.7" y="377.3" font-size="8.7" font-weight="bold" text-anchor="end" fill="#111" stroke="#111" stroke-width="0.25">400</text><line x1="232.5" y1="404.15" x2="237.5" y2="404.15" stroke="#1a1a1a" stroke-width="1.3"/><text x="230.7" y="407.15" font-size="8.7" font-weight="bold" text-anchor="end" fill="#111" stroke="#111" stroke-width="0.25">200</text><line x1="232.5" y1="434" x2="237.5" y2="434" stroke="#1a1a1a" stroke-width="1.3"/><text x="230.7" y="437" font-size="8.7" font-weight="bold" text-anchor="end" fill="#111" stroke="#111" stroke-width="0.25">0</text><line x1="232.5" y1="434" x2="355.5" y2="434" stroke="#1a1a1a" stroke-width="1.3"/><line x1="247.2" y1="434" x2="247.2" y2="438.2" stroke="#1a1a1a" stroke-width="1.3"/><text x="247.2" y="447.6" font-size="8.3" font-weight="bold" text-anchor="middle" fill="#111" stroke="#111" stroke-width="0.25">0.1</text><line x1="266.9" y1="434" x2="266.9" y2="438.2" stroke="#1a1a1a" stroke-width="1.3"/><text x="266.9" y="447.6" font-size="8.3" font-weight="bold" text-anchor="middle" fill="#111" stroke="#111" stroke-width="0.25">0.3</text><line x1="286.7" y1="434" x2="286.7" y2="438.2" stroke="#1a1a1a" stroke-width="1.3"/><text x="286.7" y="447.6" font-size="8.3" font-weight="bold" text-anchor="middle" fill="#111" stroke="#111" stroke-width="0.25">1</text><line x1="306.4" y1="434" x2="306.4" y2="438.2" stroke="#1a1a1a" stroke-width="1.3"/><text x="306.4" y="447.6" font-size="8.3" font-weight="bold" text-anchor="middle" fill="#111" stroke="#111" stroke-width="0.25">3</text><line x1="326.1" y1="434" x2="326.1" y2="438.2" stroke="#1a1a1a" stroke-width="1.3"/><text x="326.1" y="447.6" font-size="8.3" font-weight="bold" text-anchor="middle" fill="#111" stroke="#111" stroke-width="0.25">10</text><line x1="345.9" y1="434" x2="345.9" y2="438.2" stroke="#1a1a1a" stroke-width="1.3"/><text x="345.9" y="447.6" font-size="8.3" font-weight="bold" text-anchor="middle" fill="#111" stroke="#111" stroke-width="0.25">25</text><text x="240.3" y="465.4" font-size="9.8" font-weight="bold" text-anchor="start" fill="#111" stroke="#111" stroke-width="0.25">Flash Intensity (cd.s/m<tspan font-size="7.3" dy="-4.4">2</tspan><tspan dy="4.4">)</tspan></text><text transform="translate(197.8,373.8) rotate(-90)" font-size="9.75" font-weight="bold" text-anchor="middle" fill="#111" stroke="#111" stroke-width="0.25">Amplitude (µV)</text><line x1="258.8" y1="327.6" x2="340.4" y2="327.6" stroke="#555" stroke-width="0.9"/><text x="292" y="326.6" font-size="10" font-weight="bold" text-anchor="start" fill="#111" stroke="#111" stroke-width="0.25">****</text><line x1="358.6" y1="343.2" x2="358.6" y2="362.6" stroke="#333" stroke-width="1.1"/><text x="361.2" y="356.9" font-size="9" font-weight="bold" text-anchor="start" fill="#111" stroke="#111" stroke-width="0.25">*</text><polyline points="247.2,390.5 266.9,377.2 286.7,374.4 306.4,372 326.1,367.3 345.9,361.6" fill="none" stroke="#333" stroke-width="0.95"/><line x1="247.2" y1="386.7" x2="247.2" y2="393" stroke="#333" stroke-width="0.9"/><line x1="244.1" y1="386.7" x2="250.3" y2="386.7" stroke="#333" stroke-width="0.9"/><line x1="244.1" y1="393" x2="250.3" y2="393" stroke="#333" stroke-width="0.9"/><line x1="266.9" y1="375" x2="266.9" y2="379.5" stroke="#333" stroke-width="0.9"/><line x1="263.8" y1="375" x2="270" y2="375" stroke="#333" stroke-width="0.9"/><line x1="263.8" y1="379.5" x2="270" y2="379.5" stroke="#333" stroke-width="0.9"/><line x1="286.7" y1="372.5" x2="286.7" y2="377.2" stroke="#333" stroke-width="0.9"/><line x1="283.6" y1="372.5" x2="289.8" y2="372.5" stroke="#333" stroke-width="0.9"/><line x1="283.6" y1="377.2" x2="289.8" y2="377.2" stroke="#333" stroke-width="0.9"/><line x1="306.4" y1="369.6" x2="306.4" y2="374.8" stroke="#333" stroke-width="0.9"/><line x1="303.3" y1="369.6" x2="309.5" y2="369.6" stroke="#333" stroke-width="0.9"/><line x1="303.3" y1="374.8" x2="309.5" y2="374.8" stroke="#333" stroke-width="0.9"/><line x1="326.1" y1="363.7" x2="326.1" y2="371.5" stroke="#333" stroke-width="0.9"/><line x1="323" y1="363.7" x2="329.2" y2="363.7" stroke="#333" stroke-width="0.9"/><line x1="323" y1="371.5" x2="329.2" y2="371.5" stroke="#333" stroke-width="0.9"/><line x1="345.9" y1="355.5" x2="345.9" y2="366.1" stroke="#333" stroke-width="0.9"/><line x1="342.8" y1="355.5" x2="349" y2="355.5" stroke="#333" stroke-width="0.9"/><line x1="342.8" y1="366.1" x2="349" y2="366.1" stroke="#333" stroke-width="0.9"/><polyline points="247.2,391.6 266.9,371.1 286.7,366.6 306.4,365.6 326.1,359 345.9,346.7" fill="none" stroke="#4242f0" stroke-width="0.95"/><line x1="247.2" y1="386.7" x2="247.2" y2="391.6" stroke="#6a6ade" stroke-width="0.9"/><line x1="244.1" y1="386.7" x2="250.3" y2="386.7" stroke="#6a6ade" stroke-width="0.9"/><line x1="244.1" y1="391.6" x2="250.3" y2="391.6" stroke="#6a6ade" stroke-width="0.9"/><line x1="266.9" y1="366.1" x2="266.9" y2="375.6" stroke="#6a6ade" stroke-width="0.9"/><line x1="263.8" y1="366.1" x2="270" y2="366.1" stroke="#6a6ade" stroke-width="0.9"/><line x1="263.8" y1="375.6" x2="270" y2="375.6" stroke="#6a6ade" stroke-width="0.9"/><line x1="286.7" y1="362.6" x2="286.7" y2="370.8" stroke="#6a6ade" stroke-width="0.9"/><line x1="283.6" y1="362.6" x2="289.8" y2="362.6" stroke="#6a6ade" stroke-width="0.9"/><line x1="283.6" y1="370.8" x2="289.8" y2="370.8" stroke="#6a6ade" stroke-width="0.9"/><line x1="306.4" y1="360.7" x2="306.4" y2="370.8" stroke="#6a6ade" stroke-width="0.9"/><line x1="303.3" y1="360.7" x2="309.5" y2="360.7" stroke="#6a6ade" stroke-width="0.9"/><line x1="303.3" y1="370.8" x2="309.5" y2="370.8" stroke="#6a6ade" stroke-width="0.9"/><line x1="326.1" y1="353.8" x2="326.1" y2="363.7" stroke="#6a6ade" stroke-width="0.9"/><line x1="323" y1="353.8" x2="329.2" y2="353.8" stroke="#6a6ade" stroke-width="0.9"/><line x1="323" y1="363.7" x2="329.2" y2="363.7" stroke="#6a6ade" stroke-width="0.9"/><line x1="345.9" y1="339.6" x2="345.9" y2="354.3" stroke="#6a6ade" stroke-width="0.9"/><line x1="342.8" y1="339.6" x2="349" y2="339.6" stroke="#6a6ade" stroke-width="0.9"/><line x1="342.8" y1="354.3" x2="349" y2="354.3" stroke="#6a6ade" stroke-width="0.9"/><polygon points="247.2,387.69 249.8,392.37 244.6,392.37" fill="#000"/><polygon points="266.9,374.39 269.5,379.07 264.3,379.07" fill="#000"/><polygon points="286.7,371.59 289.3,376.27 284.1,376.27" fill="#000"/><polygon points="306.4,369.19 309,373.87 303.8,373.87" fill="#000"/><polygon points="326.1,364.49 328.7,369.17 323.5,369.17" fill="#000"/><polygon points="345.9,358.79 348.5,363.47 343.3,363.47" fill="#000"/><circle cx="247.2" cy="391.6" r="2.7" fill="#0a0aff"/><circle cx="266.9" cy="371.1" r="2.7" fill="#0a0aff"/><circle cx="286.7" cy="366.6" r="2.7" fill="#0a0aff"/><circle cx="306.4" cy="365.6" r="2.7" fill="#0a0aff"/><circle cx="326.1" cy="359" r="2.7" fill="#0a0aff"/><circle cx="345.9" cy="346.7" r="2.7" fill="#0a0aff"/><line x1="248.3" y1="486.1" x2="261.3" y2="486.1" stroke="#5050e8" stroke-width="1.0"/><circle cx="254.7" cy="486.1" r="2.9" fill="#0a0aff"/><text x="268.8" y="490.2" font-size="9.57" font-weight="normal" text-anchor="start" fill="#111" stroke="#111" stroke-width="0.12">GLAST-COX 10<tspan font-size="6.5" dy="-4.2">wt</tspan></text><line x1="248.3" y1="505" x2="261.3" y2="505" stroke="#333" stroke-width="1.0"/><polygon points="254.7,501.87 257.6,507.09 251.8,507.09" fill="#000"/><text x="268.8" y="509.1" font-size="9.57" font-weight="normal" text-anchor="start" fill="#111" stroke="#111" stroke-width="0.12">GLAST-COX 10<tspan font-size="6.5" dy="-4.2">fl/fl</tspan></text><text x="375.1" y="302.4" font-size="17" font-weight="bold" text-anchor="start" fill="#000" stroke="#000" stroke-width="0.25">E</text><rect x="390" y="307.6" width="153.4" height="125" fill="#fff"/><line x1="390.5" y1="431.3" x2="392.9" y2="431.3" stroke="#707070" stroke-width="0.8"/><line x1="390.5" y1="428" x2="392.9" y2="428" stroke="#707070" stroke-width="0.8"/><line x1="390.5" y1="424.7" x2="392.9" y2="424.7" stroke="#707070" stroke-width="0.8"/><line x1="390.5" y1="421.4" x2="392.9" y2="421.4" stroke="#707070" stroke-width="0.8"/><line x1="390.5" y1="418.1" x2="392.9" y2="418.1" stroke="#707070" stroke-width="0.8"/><line x1="390.5" y1="414.8" x2="392.9" y2="414.8" stroke="#707070" stroke-width="0.8"/><line x1="390.5" y1="411.5" x2="392.9" y2="411.5" stroke="#707070" stroke-width="0.8"/><line x1="390.5" y1="408.2" x2="392.9" y2="408.2" stroke="#707070" stroke-width="0.8"/><line x1="390.5" y1="404.9" x2="392.9" y2="404.9" stroke="#707070" stroke-width="0.8"/><line x1="390.5" y1="401.6" x2="392.9" y2="401.6" stroke="#707070" stroke-width="0.8"/><line x1="390.5" y1="398.3" x2="392.9" y2="398.3" stroke="#707070" stroke-width="0.8"/><line x1="390.5" y1="395" x2="392.9" y2="395" stroke="#707070" stroke-width="0.8"/><line x1="390.5" y1="391.7" x2="392.9" y2="391.7" stroke="#707070" stroke-width="0.8"/><line x1="390.5" y1="388.4" x2="392.9" y2="388.4" stroke="#707070" stroke-width="0.8"/><line x1="390.5" y1="385.1" x2="392.9" y2="385.1" stroke="#707070" stroke-width="0.8"/><line x1="390.5" y1="381.8" x2="392.9" y2="381.8" stroke="#707070" stroke-width="0.8"/><line x1="390.5" y1="378.5" x2="392.9" y2="378.5" stroke="#707070" stroke-width="0.8"/><line x1="390.5" y1="375.2" x2="392.9" y2="375.2" stroke="#707070" stroke-width="0.8"/><line x1="390.5" y1="371.9" x2="392.9" y2="371.9" stroke="#707070" stroke-width="0.8"/><line x1="390.5" y1="368.6" x2="392.9" y2="368.6" stroke="#707070" stroke-width="0.8"/><line x1="390.5" y1="365.3" x2="392.9" y2="365.3" stroke="#707070" stroke-width="0.8"/><line x1="390.5" y1="362" x2="392.9" y2="362" stroke="#707070" stroke-width="0.8"/><line x1="390.5" y1="358.7" x2="392.9" y2="358.7" stroke="#707070" stroke-width="0.8"/><line x1="390.5" y1="355.4" x2="392.9" y2="355.4" stroke="#707070" stroke-width="0.8"/><line x1="390.5" y1="352.1" x2="392.9" y2="352.1" stroke="#707070" stroke-width="0.8"/><line x1="390.5" y1="348.8" x2="392.9" y2="348.8" stroke="#707070" stroke-width="0.8"/><line x1="390.5" y1="345.5" x2="392.9" y2="345.5" stroke="#707070" stroke-width="0.8"/><line x1="390.5" y1="342.2" x2="392.9" y2="342.2" stroke="#707070" stroke-width="0.8"/><line x1="390.5" y1="338.9" x2="392.9" y2="338.9" stroke="#707070" stroke-width="0.8"/><line x1="390.5" y1="335.6" x2="392.9" y2="335.6" stroke="#707070" stroke-width="0.8"/><line x1="390.5" y1="332.3" x2="392.9" y2="332.3" stroke="#707070" stroke-width="0.8"/><line x1="390.5" y1="329" x2="392.9" y2="329" stroke="#707070" stroke-width="0.8"/><line x1="390.5" y1="325.7" x2="392.9" y2="325.7" stroke="#707070" stroke-width="0.8"/><line x1="390.5" y1="322.4" x2="392.9" y2="322.4" stroke="#707070" stroke-width="0.8"/><line x1="390.5" y1="319.1" x2="392.9" y2="319.1" stroke="#707070" stroke-width="0.8"/><line x1="390.5" y1="315.8" x2="392.9" y2="315.8" stroke="#707070" stroke-width="0.8"/><line x1="390.5" y1="312.5" x2="392.9" y2="312.5" stroke="#707070" stroke-width="0.8"/><line x1="390.5" y1="309.2" x2="392.9" y2="309.2" stroke="#707070" stroke-width="0.8"/><line x1="394.42" y1="432.1" x2="394.42" y2="429.9" stroke="#707070" stroke-width="0.8"/><line x1="398.21" y1="432.1" x2="398.21" y2="429.9" stroke="#707070" stroke-width="0.8"/><line x1="402" y1="432.1" x2="402" y2="428.5" stroke="#707070" stroke-width="0.8"/><line x1="405.79" y1="432.1" x2="405.79" y2="429.9" stroke="#707070" stroke-width="0.8"/><line x1="409.58" y1="432.1" x2="409.58" y2="429.9" stroke="#707070" stroke-width="0.8"/><line x1="413.37" y1="432.1" x2="413.37" y2="429.9" stroke="#707070" stroke-width="0.8"/><line x1="417.16" y1="432.1" x2="417.16" y2="429.9" stroke="#707070" stroke-width="0.8"/><line x1="420.95" y1="432.1" x2="420.95" y2="428.5" stroke="#707070" stroke-width="0.8"/><line x1="424.74" y1="432.1" x2="424.74" y2="429.9" stroke="#707070" stroke-width="0.8"/><line x1="428.53" y1="432.1" x2="428.53" y2="429.9" stroke="#707070" stroke-width="0.8"/><line x1="432.32" y1="432.1" x2="432.32" y2="429.9" stroke="#707070" stroke-width="0.8"/><line x1="436.11" y1="432.1" x2="436.11" y2="429.9" stroke="#707070" stroke-width="0.8"/><line x1="439.9" y1="432.1" x2="439.9" y2="428.5" stroke="#707070" stroke-width="0.8"/><line x1="443.69" y1="432.1" x2="443.69" y2="429.9" stroke="#707070" stroke-width="0.8"/><line x1="447.48" y1="432.1" x2="447.48" y2="429.9" stroke="#707070" stroke-width="0.8"/><line x1="451.27" y1="432.1" x2="451.27" y2="429.9" stroke="#707070" stroke-width="0.8"/><line x1="455.06" y1="432.1" x2="455.06" y2="429.9" stroke="#707070" stroke-width="0.8"/><line x1="458.85" y1="432.1" x2="458.85" y2="428.5" stroke="#707070" stroke-width="0.8"/><line x1="462.64" y1="432.1" x2="462.64" y2="429.9" stroke="#707070" stroke-width="0.8"/><line x1="466.43" y1="432.1" x2="466.43" y2="429.9" stroke="#707070" stroke-width="0.8"/><line x1="470.22" y1="432.1" x2="470.22" y2="429.9" stroke="#707070" stroke-width="0.8"/><line x1="474.01" y1="432.1" x2="474.01" y2="429.9" stroke="#707070" stroke-width="0.8"/><line x1="477.8" y1="432.1" x2="477.8" y2="428.5" stroke="#707070" stroke-width="0.8"/><line x1="481.59" y1="432.1" x2="481.59" y2="429.9" stroke="#707070" stroke-width="0.8"/><line x1="485.38" y1="432.1" x2="485.38" y2="429.9" stroke="#707070" stroke-width="0.8"/><line x1="489.17" y1="432.1" x2="489.17" y2="429.9" stroke="#707070" stroke-width="0.8"/><line x1="492.96" y1="432.1" x2="492.96" y2="429.9" stroke="#707070" stroke-width="0.8"/><line x1="496.75" y1="432.1" x2="496.75" y2="428.5" stroke="#707070" stroke-width="0.8"/><line x1="500.54" y1="432.1" x2="500.54" y2="429.9" stroke="#707070" stroke-width="0.8"/><line x1="504.33" y1="432.1" x2="504.33" y2="429.9" stroke="#707070" stroke-width="0.8"/><line x1="508.12" y1="432.1" x2="508.12" y2="429.9" stroke="#707070" stroke-width="0.8"/><line x1="511.91" y1="432.1" x2="511.91" y2="429.9" stroke="#707070" stroke-width="0.8"/><line x1="515.7" y1="432.1" x2="515.7" y2="428.5" stroke="#707070" stroke-width="0.8"/><line x1="519.49" y1="432.1" x2="519.49" y2="429.9" stroke="#707070" stroke-width="0.8"/><line x1="523.28" y1="432.1" x2="523.28" y2="429.9" stroke="#707070" stroke-width="0.8"/><line x1="527.07" y1="432.1" x2="527.07" y2="429.9" stroke="#707070" stroke-width="0.8"/><line x1="530.86" y1="432.1" x2="530.86" y2="429.9" stroke="#707070" stroke-width="0.8"/><line x1="534.65" y1="432.1" x2="534.65" y2="428.5" stroke="#707070" stroke-width="0.8"/><line x1="538.44" y1="432.1" x2="538.44" y2="429.9" stroke="#707070" stroke-width="0.8"/><line x1="542.23" y1="432.1" x2="542.23" y2="429.9" stroke="#707070" stroke-width="0.8"/><line x1="412.2" y1="307.6" x2="412.2" y2="309" stroke="#999" stroke-width="0.7"/><line x1="435.6" y1="307.6" x2="435.6" y2="309" stroke="#999" stroke-width="0.7"/><line x1="459" y1="307.6" x2="459" y2="309" stroke="#999" stroke-width="0.7"/><line x1="482.4" y1="307.6" x2="482.4" y2="309" stroke="#999" stroke-width="0.7"/><line x1="505.8" y1="307.6" x2="505.8" y2="309" stroke="#999" stroke-width="0.7"/><line x1="529.2" y1="307.6" x2="529.2" y2="309" stroke="#999" stroke-width="0.7"/><line x1="389.5" y1="307.6" x2="543.4" y2="307.6" stroke="#808080" stroke-width="1.2"/><line x1="390" y1="307" x2="390" y2="434.3" stroke="#7c7c7c" stroke-width="2"/><line x1="543.8" y1="307" x2="543.8" y2="434.3" stroke="#8a8a8a" stroke-width="2.2"/><line x1="389" y1="433.5" x2="544.9" y2="433.5" stroke="#7c7c7c" stroke-width="1.9"/><line x1="390" y1="335.4" x2="395.5" y2="335.4" stroke="#888" stroke-width="0.7"/><text x="396.9" y="337.3" font-size="5.1" font-weight="normal" text-anchor="start" fill="#555">100.0</text><line x1="390" y1="368.6" x2="395.5" y2="368.6" stroke="#888" stroke-width="0.7"/><text x="399.3" y="370.5" font-size="5.1" font-weight="normal" text-anchor="start" fill="#555">0.0</text><line x1="390" y1="401.8" x2="395.5" y2="401.8" stroke="#888" stroke-width="0.7"/><text x="397.5" y="403.7" font-size="5.1" font-weight="normal" text-anchor="start" fill="#555">-100.0</text><text x="403.7" y="428.7" font-size="5.1" font-weight="normal" text-anchor="middle" fill="#555">0.0</text><text x="420.9" y="428.7" font-size="5.1" font-weight="normal" text-anchor="middle" fill="#555">50.0</text><text x="440.2" y="428.7" font-size="5.1" font-weight="normal" text-anchor="middle" fill="#555">100.0</text><text x="459.1" y="428.7" font-size="5.1" font-weight="normal" text-anchor="middle" fill="#555">150.0</text><text x="478.4" y="428.7" font-size="5.1" font-weight="normal" text-anchor="middle" fill="#555">200.0</text><text x="497.3" y="428.7" font-size="5.1" font-weight="normal" text-anchor="middle" fill="#555">250.0</text><text x="516.1" y="428.7" font-size="5.1" font-weight="normal" text-anchor="middle" fill="#555">300.0</text><text x="534.6" y="428.7" font-size="5.1" font-weight="normal" text-anchor="middle" fill="#555">350.0</text><polyline points="399.5,363.5 403.4,365.3 406,369.1 408.5,379.4 411.1,394.7 413.6,406.3 414.4,409.6 416.2,402.4 418.3,382 420,356.3 421.3,338.3 422.1,329.4 423.1,331.9 423.9,326.8 425.2,320.4 426.5,314.7 427.7,317.8 429,319.1 430.3,315.3 431.6,313.2 433.6,315.3 435.4,319.1 438,324.2 440.6,328 443.1,333.2 445.7,337 447.5,340.9 449.5,344.7 450.8,342.2 452.1,347.3 454.2,349.9 456,351.2 458.5,355 461.1,351.2 463.6,356.3 465.1,360.1 467.7,364 470.3,366.5 471.5,361.4 474.1,367.8 478,371.2 481.8,374.2 485.6,378.1 489.5,379.9 493.3,380.6 497.2,379.4 499.7,380.6 501,373.7 503.1,379.4 505.6,377.6 508.2,379.9 511.3,378.8 512.6,374.2 513.8,380.6 515.1,376.3 516.4,383.2 519,379.4 521.5,384.5 522.8,380.6 525.4,383.2 527.9,381.9 530.5,384.5 533.1,381.9 534.4,383.2" fill="none" stroke="#444" stroke-width="0.85" stroke-linejoin="round"/><polyline points="399.5,364 402.1,364.5 404.7,366.5 407.2,373 409.8,387 412.4,405 413.6,415.3 414.9,426.8 416.2,420.4 417.5,407.6 420,382 422.6,358.8 425.2,343.5 426.5,333.2 429,325.5 431.1,320.4 432.1,318.3 433.6,320.4 435.4,323 437.2,320.9 439.3,323 441.8,328 444.4,326.8 447,329.4 448.3,333.2 450.8,338.3 453.4,339.6 456,342.2 458.5,347.3 461.1,351.2 463.8,356.3 467.7,360.1 471.5,363.5 475.4,366.5 479.2,369.1 483.1,372.2 486.9,374.2 490.8,375.5 494.6,376.8 498.5,379.4 502.3,381.9 506.2,383.2 511.3,385 515.1,386.5 519,385 522.8,386.5 526.7,388.3 529.7,387.6 533.1,386.5 534.4,387" fill="none" stroke="#6464e4" stroke-width="0.85" stroke-linejoin="round"/></g></svg></body></html>
